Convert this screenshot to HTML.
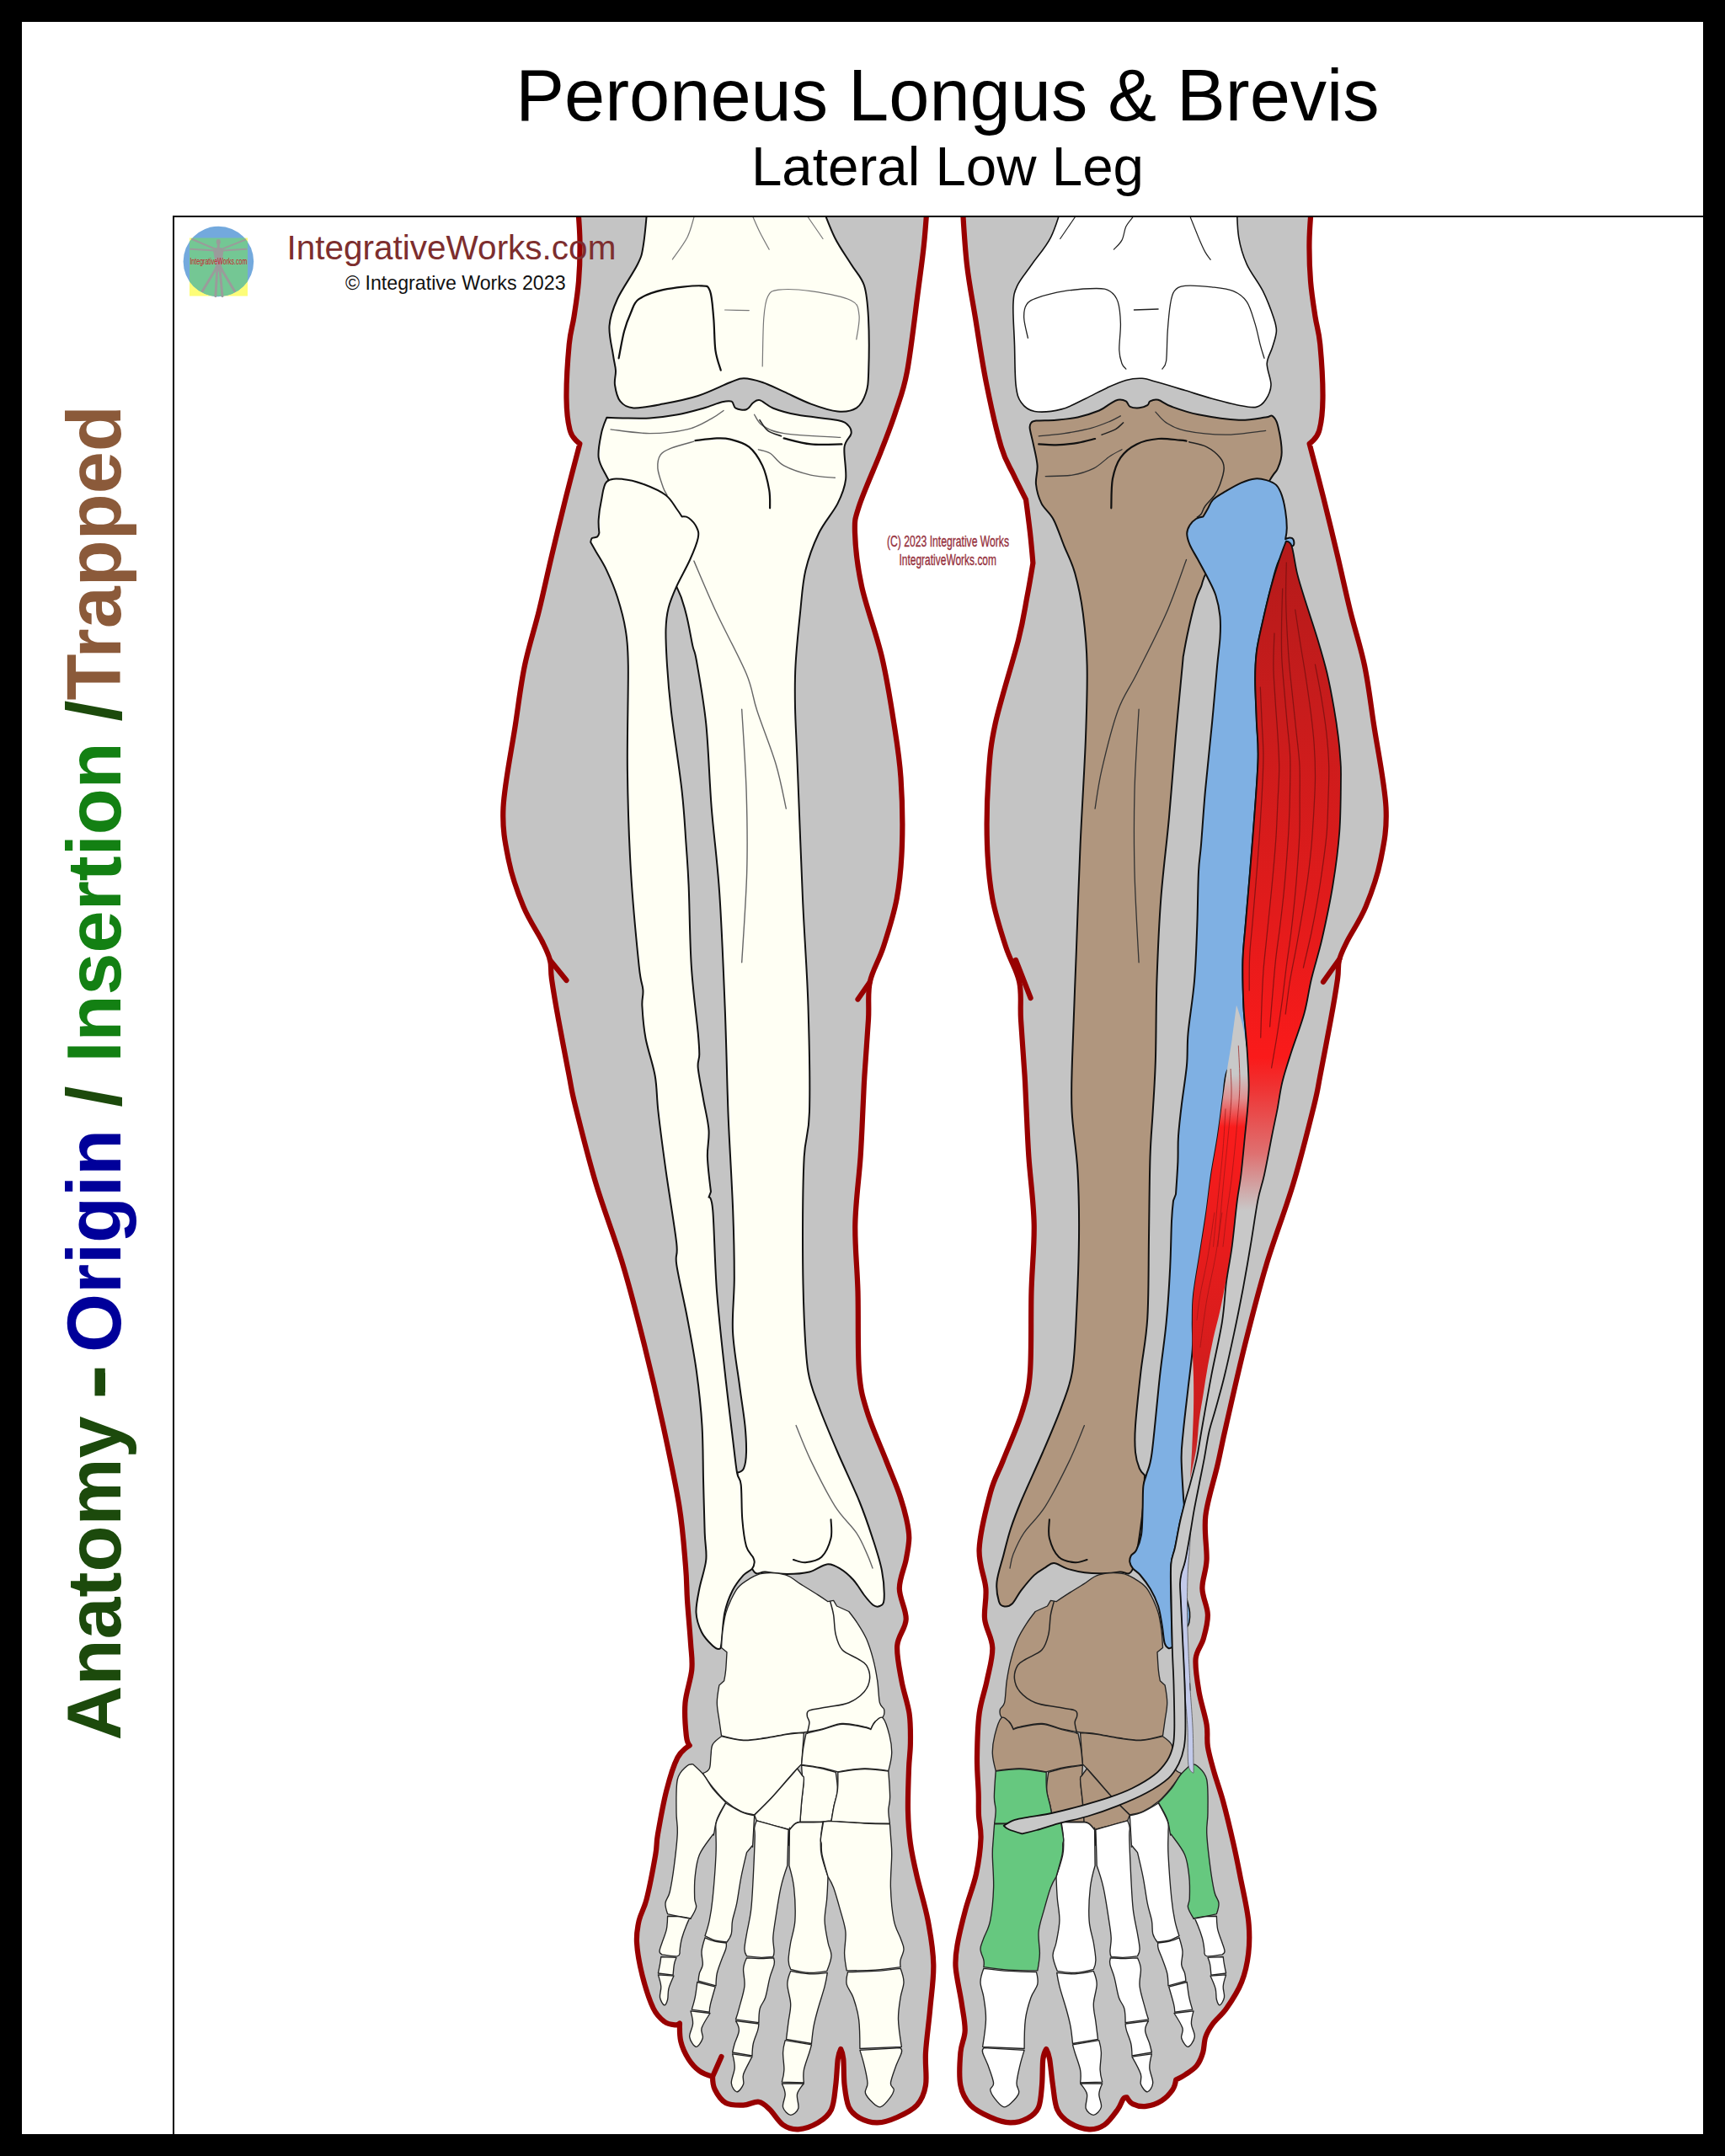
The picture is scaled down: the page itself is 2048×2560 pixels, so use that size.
<!DOCTYPE html>
<html><head><meta charset="utf-8"><title>Peroneus Longus &amp; Brevis</title>
<style>html,body{margin:0;padding:0;background:#000}svg{display:block}text{font-family:"Liberation Sans",sans-serif}</style>
</head><body>
<svg width="2048" height="2560" viewBox="0 0 2048 2560">
<defs>
<clipPath id="box"><rect x="207" y="258" width="1815" height="2276"/></clipPath>
<linearGradient id="gl" gradientUnits="userSpaceOnUse" x1="0" y1="640" x2="0" y2="1450"><stop offset="0" stop-color="#b41a1a"/><stop offset="0.25" stop-color="#c81c1c"/><stop offset="0.55" stop-color="#e21b1b"/><stop offset="0.76" stop-color="#fa1a1a"/><stop offset="0.80" stop-color="#f03030"/><stop offset="0.90" stop-color="#df7070"/><stop offset="0.985" stop-color="#c8c8c8"/><stop offset="1" stop-color="#c8c8c8"/></linearGradient>
<linearGradient id="gb" gradientUnits="userSpaceOnUse" x1="0" y1="1190" x2="0" y2="1760"><stop offset="0" stop-color="#c8c8c8"/><stop offset="0.15" stop-color="#c8c8c8"/><stop offset="0.20" stop-color="#e09090"/><stop offset="0.26" stop-color="#fa1c1c"/><stop offset="0.55" stop-color="#e41c1c"/><stop offset="0.9" stop-color="#c81e1e"/><stop offset="1" stop-color="#c84040"/></linearGradient>
</defs>
<rect x="0" y="0" width="2048" height="2560" fill="#000"/>
<rect x="26" y="26" width="1996" height="2508" fill="#fff"/>
<g clip-path="url(#box)" stroke-linejoin="round" stroke-linecap="round">
<path d="M685.6 240.0C685.6 240.0 688.3 271.3 688.5 287.0C688.7 302.7 688.2 319.2 687.0 334.0C685.8 348.8 683.4 363.5 681.5 376.0C679.6 388.5 677.2 392.8 675.7 409.0C674.2 425.2 672.3 455.8 672.5 473.0C672.7 490.2 674.4 503.0 677.0 512.0C679.6 521.0 688.4 526.8 688.4 526.8C688.4 526.8 677.6 567.8 672.0 590.0C666.4 612.2 660.3 637.5 655.0 660.0C649.7 682.5 645.3 703.3 640.0 725.0C634.7 746.7 627.7 767.5 623.0 790.0C618.3 812.5 616.2 831.9 612.0 860.0C607.8 888.1 598.8 931.6 597.5 958.6C596.2 985.6 600.0 1002.3 604.0 1022.0C608.0 1041.7 614.9 1060.6 621.5 1076.6C628.1 1092.6 638.5 1107.4 643.8 1118.0C649.0 1128.6 651.1 1132.5 653.0 1140.0C654.9 1147.5 653.3 1151.0 655.0 1162.7C656.7 1174.5 659.5 1191.4 663.0 1210.5C666.5 1229.6 672.4 1260.4 675.7 1277.5C679.0 1294.6 677.7 1291.6 683.0 1313.0C688.3 1334.4 698.2 1374.3 707.6 1405.7C717.0 1437.1 729.8 1469.4 739.4 1501.3C749.0 1533.2 757.0 1565.1 765.0 1597.0C773.0 1628.9 780.4 1660.8 787.3 1692.7C794.2 1724.6 801.9 1760.4 806.4 1788.3C810.9 1816.2 812.4 1841.4 814.0 1860.0C815.6 1878.6 815.0 1884.8 816.0 1900.0C817.0 1915.2 819.1 1937.5 820.0 1951.3C820.9 1965.1 822.4 1970.8 821.3 1982.6C820.2 1994.3 814.6 2008.8 813.5 2021.8C812.4 2034.8 813.9 2052.4 814.8 2060.9C815.7 2069.4 818.7 2072.6 818.7 2072.6C818.7 2072.6 809.0 2078.1 804.4 2087.0C799.8 2095.9 795.2 2110.8 791.3 2126.0C787.4 2141.2 783.1 2165.6 780.9 2178.3C778.7 2191.0 780.5 2189.3 778.3 2202.0C776.1 2214.7 771.1 2241.3 767.8 2254.4C764.5 2267.5 760.7 2271.7 758.7 2280.4C756.7 2289.1 755.4 2295.6 756.0 2306.5C756.6 2317.4 759.3 2332.6 762.6 2345.7C765.9 2358.8 771.4 2375.7 775.7 2384.8C780.1 2393.9 784.4 2397.1 788.7 2400.4C793.0 2403.7 798.7 2404.1 801.7 2404.4C804.8 2404.8 807.0 2402.5 807.0 2402.5C807.0 2402.5 806.6 2416.9 808.3 2424.0C810.0 2431.1 813.7 2439.0 817.4 2444.8C821.1 2450.6 825.6 2455.5 830.4 2459.0C835.2 2462.5 846.0 2465.7 846.0 2465.7C846.0 2465.7 846.1 2475.8 848.7 2481.0C851.3 2486.2 856.1 2493.9 861.7 2497.0C867.4 2500.1 876.1 2499.8 882.6 2499.6C889.1 2499.4 895.7 2494.8 900.9 2495.7C906.1 2496.6 909.1 2500.2 913.9 2504.8C918.7 2509.4 924.0 2519.1 929.6 2523.0C935.2 2526.9 940.8 2528.7 947.8 2528.3C954.8 2527.9 964.8 2524.3 971.3 2520.4C977.8 2516.5 983.5 2512.2 987.0 2504.8C990.5 2497.4 990.9 2486.0 992.2 2476.0C993.5 2466.0 993.8 2452.0 994.8 2444.8C995.8 2437.6 998.2 2433.0 998.2 2433.0C998.2 2433.0 1000.6 2437.6 1001.3 2444.8C1002.0 2452.0 1001.5 2466.5 1002.6 2476.0C1003.7 2485.5 1004.8 2495.5 1007.8 2502.0C1010.8 2508.5 1015.2 2511.9 1020.9 2515.0C1026.5 2518.1 1034.3 2520.6 1041.7 2520.4C1049.1 2520.2 1057.4 2517.5 1065.2 2514.0C1073.0 2510.5 1083.1 2505.9 1088.7 2499.6C1094.3 2493.3 1097.3 2486.4 1099.0 2476.0C1100.7 2465.6 1098.1 2452.2 1099.0 2437.0C1099.9 2421.8 1102.8 2402.2 1104.3 2384.8C1105.8 2367.4 1108.7 2350.0 1108.3 2332.6C1107.9 2315.2 1105.0 2297.8 1101.7 2280.4C1098.4 2263.0 1092.2 2243.5 1088.7 2228.3C1085.2 2213.1 1082.7 2202.1 1080.9 2189.0C1079.1 2175.9 1078.3 2164.8 1078.0 2150.0C1077.7 2135.2 1078.5 2113.3 1079.0 2100.0C1079.5 2086.7 1080.8 2080.9 1080.9 2070.0C1081.0 2059.1 1081.3 2047.2 1079.6 2034.8C1077.8 2022.4 1072.8 2009.2 1070.4 1995.7C1068.0 1982.2 1064.3 1966.2 1065.2 1954.0C1066.1 1941.8 1075.3 1933.9 1075.7 1922.6C1076.1 1911.3 1067.8 1897.8 1067.8 1886.0C1067.8 1874.2 1073.8 1862.0 1075.7 1852.0C1077.6 1842.0 1079.2 1834.2 1079.3 1826.0C1079.3 1817.8 1078.0 1812.0 1076.0 1803.0C1074.0 1794.0 1071.0 1783.5 1067.0 1772.0C1063.0 1760.5 1058.2 1749.9 1052.0 1734.0C1045.8 1718.1 1034.9 1694.2 1029.6 1676.7C1024.3 1659.2 1021.9 1652.8 1020.0 1628.9C1018.1 1605.0 1019.3 1562.4 1018.5 1533.2C1017.7 1504.0 1014.8 1480.1 1015.3 1453.5C1015.8 1426.9 1020.0 1397.7 1021.6 1373.8C1023.2 1349.9 1024.0 1326.0 1024.8 1310.0C1025.6 1294.0 1025.4 1294.1 1026.4 1277.5C1027.4 1260.9 1029.9 1229.1 1031.0 1210.5C1032.1 1191.9 1029.8 1180.3 1032.8 1166.0C1035.8 1151.7 1043.5 1140.9 1048.8 1124.4C1054.1 1107.9 1061.0 1087.2 1064.7 1067.0C1068.4 1046.8 1070.2 1026.9 1071.0 1003.0C1071.8 979.1 1071.1 947.3 1069.5 923.5C1067.9 899.7 1065.2 883.9 1061.5 860.0C1057.8 836.1 1053.4 807.3 1047.0 780.0C1040.6 752.7 1028.3 720.5 1023.0 696.0C1017.7 671.5 1015.5 648.6 1015.0 632.7C1014.5 616.8 1014.9 616.8 1020.0 600.8C1025.1 584.8 1038.4 555.5 1045.6 537.0C1052.8 518.5 1057.8 506.0 1063.0 490.0C1068.2 474.0 1072.5 465.1 1077.0 441.0C1081.5 416.9 1086.7 370.9 1090.0 345.7C1093.3 320.5 1095.2 307.6 1097.0 290.0C1098.8 272.4 1101.0 240.0 1101.0 240.0C1101.0 240.0 685.6 240.0 685.6 240.0Z" fill="#c4c4c4" stroke="#980000" stroke-width="6.2"/>
<path d="M653.0 1140.0C656.2 1144.0 669.2 1160.0 672.5 1164.0" fill="none" stroke="#980000" stroke-width="6.2"/>
<path d="M1032.8 1166.0C1030.4 1169.4 1020.9 1183.2 1018.5 1186.6" fill="none" stroke="#980000" stroke-width="6.2"/>
<path d="M846.0 2465.7C847.8 2461.8 854.8 2445.9 856.5 2442.0" fill="none" stroke="#980000" stroke-width="6.2"/>
<path d="M1142.5 240.0C1142.5 240.0 1145.3 290.9 1147.9 313.8C1150.5 336.7 1154.2 354.2 1158.0 377.6C1161.8 401.0 1165.7 428.5 1170.8 454.0C1175.9 479.5 1183.3 512.4 1188.7 530.6C1194.1 548.8 1198.1 552.6 1203.0 563.0C1207.9 573.4 1218.0 593.1 1218.0 593.1C1218.0 593.1 1221.6 620.2 1223.0 632.7C1224.4 645.2 1226.4 668.4 1226.4 668.4C1226.4 668.4 1222.2 693.9 1219.3 709.2C1216.4 724.5 1215.3 735.1 1209.0 760.2C1202.7 785.3 1187.4 832.8 1181.5 860.0C1175.6 887.2 1175.1 899.7 1173.5 923.5C1171.9 947.3 1171.2 979.1 1172.0 1003.0C1172.8 1026.9 1174.6 1046.8 1178.3 1067.0C1182.0 1087.2 1188.9 1107.9 1194.2 1124.4C1199.5 1140.9 1207.2 1151.7 1210.2 1166.0C1213.2 1180.3 1210.9 1191.9 1212.0 1210.5C1213.1 1229.1 1215.6 1260.9 1216.6 1277.5C1217.6 1294.1 1217.4 1294.0 1218.2 1310.0C1219.0 1326.0 1219.8 1349.9 1221.4 1373.8C1223.0 1397.7 1227.2 1426.9 1227.7 1453.5C1228.2 1480.1 1225.3 1504.0 1224.5 1533.2C1223.7 1562.4 1224.8 1605.0 1223.0 1628.9C1221.2 1652.8 1218.7 1659.2 1213.4 1676.7C1208.1 1694.2 1197.2 1718.1 1191.0 1734.0C1184.8 1749.9 1180.7 1754.5 1176.0 1772.0C1171.3 1789.5 1163.5 1820.1 1162.6 1839.1C1161.7 1858.1 1169.3 1872.2 1170.4 1886.1C1171.5 1900.0 1167.8 1910.9 1169.1 1922.6C1170.4 1934.3 1177.9 1944.3 1178.3 1956.5C1178.7 1968.7 1174.3 1982.7 1171.7 1995.7C1169.1 2008.8 1164.5 2019.6 1162.6 2034.8C1160.6 2050.0 1160.2 2071.1 1160.0 2087.0C1159.8 2102.9 1161.4 2118.5 1161.7 2130.0C1162.0 2141.5 1161.5 2147.2 1162.0 2156.0C1162.5 2164.8 1165.0 2171.5 1164.5 2183.0C1164.0 2194.5 1162.0 2211.0 1159.0 2225.0C1156.0 2239.0 1150.1 2253.1 1146.4 2267.0C1142.7 2280.9 1138.7 2297.1 1136.7 2308.6C1134.7 2320.1 1133.8 2324.4 1134.6 2336.0C1135.4 2347.6 1139.8 2365.5 1141.6 2378.0C1143.4 2390.5 1145.9 2401.1 1145.7 2410.9C1145.5 2420.7 1141.3 2426.1 1140.4 2437.0C1139.5 2447.9 1138.4 2465.7 1140.4 2476.1C1142.4 2486.5 1146.3 2493.3 1152.2 2499.6C1158.1 2505.9 1167.9 2510.4 1175.7 2513.9C1183.5 2517.4 1191.7 2520.2 1199.1 2520.4C1206.5 2520.6 1214.3 2518.2 1220.0 2515.2C1225.7 2512.2 1230.2 2508.7 1233.0 2502.2C1235.8 2495.7 1236.1 2485.7 1237.0 2476.1C1237.9 2466.5 1237.4 2452.0 1238.3 2444.8C1239.2 2437.6 1242.2 2433.0 1242.2 2433.0C1242.2 2433.0 1244.8 2437.6 1246.1 2444.8C1247.4 2452.0 1248.5 2466.1 1250.0 2476.1C1251.5 2486.1 1251.9 2497.4 1255.2 2504.8C1258.5 2512.2 1263.3 2516.5 1269.6 2520.4C1275.9 2524.3 1286.0 2527.9 1293.0 2528.3C1300.0 2528.7 1305.6 2526.9 1311.3 2523.0C1317.0 2519.1 1323.3 2509.9 1327.0 2504.8C1330.7 2499.7 1331.7 2494.7 1333.5 2492.3C1335.3 2489.9 1337.9 2490.4 1337.9 2490.4C1337.9 2490.4 1341.4 2496.6 1345.2 2498.3C1349.0 2500.1 1355.2 2501.6 1360.9 2500.9C1366.6 2500.2 1373.9 2497.7 1379.1 2494.4C1384.3 2491.1 1389.4 2485.4 1392.2 2481.3C1395.0 2477.2 1396.1 2469.6 1396.1 2469.6C1396.1 2469.6 1403.7 2465.8 1407.8 2463.0C1411.9 2460.2 1417.5 2456.9 1420.9 2452.6C1424.3 2448.3 1426.5 2442.7 1428.2 2437.0C1429.9 2431.3 1429.3 2424.4 1431.3 2418.7C1433.2 2413.0 1435.8 2408.7 1439.9 2403.0C1444.0 2397.3 1450.4 2393.1 1456.1 2384.8C1461.8 2376.6 1469.8 2364.4 1474.1 2353.5C1478.4 2342.6 1480.8 2331.8 1482.2 2319.6C1483.6 2307.4 1483.8 2295.6 1482.2 2280.4C1480.6 2265.2 1475.5 2243.5 1472.5 2228.3C1469.5 2213.1 1467.8 2204.0 1464.4 2189.1C1461.0 2174.2 1456.0 2153.1 1452.2 2139.1C1448.4 2125.1 1444.8 2116.1 1441.7 2105.2C1438.7 2094.3 1435.4 2083.5 1433.9 2073.9C1432.4 2064.3 1434.3 2058.7 1432.6 2047.8C1430.9 2036.9 1425.7 2021.7 1423.5 2008.7C1421.3 1995.7 1418.7 1980.0 1419.6 1969.6C1420.5 1959.2 1426.3 1954.8 1428.7 1946.1C1431.1 1937.4 1434.1 1927.4 1433.9 1917.4C1433.7 1907.4 1427.6 1897.0 1427.4 1886.1C1427.2 1875.2 1431.9 1866.5 1432.6 1852.2C1433.2 1837.9 1429.2 1818.6 1431.3 1800.0C1433.4 1781.4 1441.2 1758.4 1445.3 1740.5C1449.4 1722.6 1450.2 1716.6 1455.7 1692.7C1461.2 1668.8 1470.0 1628.9 1478.0 1597.0C1486.0 1565.1 1494.0 1533.2 1503.6 1501.3C1513.2 1469.4 1526.0 1437.1 1535.4 1405.7C1544.8 1374.3 1554.7 1334.4 1560.0 1313.0C1565.3 1291.6 1564.0 1294.6 1567.3 1277.5C1570.6 1260.4 1576.5 1229.6 1580.0 1210.5C1583.5 1191.4 1586.3 1174.5 1588.0 1162.7C1589.7 1151.0 1588.1 1147.5 1590.0 1140.0C1591.9 1132.5 1594.0 1128.6 1599.2 1118.0C1604.5 1107.4 1614.9 1092.6 1621.5 1076.6C1628.1 1060.6 1635.0 1041.7 1639.0 1022.0C1643.0 1002.3 1646.8 985.6 1645.5 958.6C1644.2 931.6 1635.2 888.1 1631.0 860.0C1626.8 831.9 1624.7 812.5 1620.0 790.0C1615.3 767.5 1608.3 746.7 1603.0 725.0C1597.7 703.3 1593.3 682.5 1588.0 660.0C1582.7 637.5 1576.6 612.2 1571.0 590.0C1565.4 567.8 1554.6 526.8 1554.6 526.8C1554.6 526.8 1563.3 521.0 1566.0 512.0C1568.7 503.0 1570.3 490.2 1570.5 473.0C1570.7 455.8 1568.8 425.2 1567.3 409.0C1565.8 392.8 1563.4 388.5 1561.5 376.0C1559.6 363.5 1557.2 348.8 1556.0 334.0C1554.8 319.2 1554.3 302.7 1554.5 287.0C1554.7 271.3 1557.4 240.0 1557.4 240.0C1557.4 240.0 1142.5 240.0 1142.5 240.0Z" fill="#c4c4c4" stroke="#980000" stroke-width="6.2"/>
<path d="M1206.0 1140.0C1208.9 1147.5 1220.7 1177.5 1223.6 1185.0" fill="none" stroke="#980000" stroke-width="6.2"/>
<path d="M1590.3 1138.7C1587.1 1143.2 1574.2 1161.4 1571.0 1165.9" fill="none" stroke="#980000" stroke-width="6.2"/>
<path d="M769.0 240.0C769.0 240.0 766.0 277.7 764.0 290.0C762.0 302.3 762.2 303.0 757.0 313.8C751.8 324.6 738.6 342.8 733.0 355.0C727.4 367.2 724.3 375.8 723.5 387.0C722.7 398.2 726.8 413.2 728.0 422.0C729.2 430.8 730.7 434.2 731.0 440.0C731.3 445.8 729.1 450.9 730.0 457.0C730.9 463.1 732.6 471.8 736.3 476.4C740.0 481.0 743.7 483.9 752.2 484.4C760.7 484.9 774.5 482.0 787.3 479.6C800.0 477.2 815.4 474.3 828.7 470.0C842.0 465.7 858.0 457.4 867.0 454.0C876.0 450.6 876.6 449.3 883.0 449.3C889.4 449.3 897.3 451.4 905.3 454.0C913.3 456.6 921.2 460.9 930.8 465.2C940.4 469.5 952.1 475.7 962.7 479.6C973.3 483.5 985.5 487.7 994.5 488.5C1003.5 489.3 1011.3 488.0 1016.9 484.4C1022.5 480.8 1025.6 474.0 1028.0 466.8C1030.4 459.6 1030.7 456.2 1031.2 441.3C1031.7 426.4 1031.9 394.7 1031.0 377.6C1030.1 360.6 1029.4 349.6 1026.0 339.0C1022.6 328.4 1016.3 323.3 1010.5 313.8C1004.7 304.3 997.1 294.3 991.0 282.0C984.9 269.7 974.0 240.0 974.0 240.0C974.0 240.0 769.0 240.0 769.0 240.0Z" fill="#fffff4" stroke="#111" stroke-width="2.0"/>
<path d="M734.6 425.4C735.7 420.1 738.6 402.5 741.0 393.5C743.4 384.5 746.1 377.6 749.0 371.2C751.9 364.8 752.1 359.7 758.5 355.2C764.9 350.7 775.0 346.8 787.2 344.1C799.4 341.5 822.6 339.0 831.9 339.3C841.2 339.6 840.5 339.3 843.0 345.7C845.5 352.1 846.1 365.8 847.2 377.5C848.3 389.2 848.0 405.4 849.4 415.8C850.8 426.2 854.7 435.7 855.8 439.7" fill="none" stroke="#111" stroke-width="2.2"/>
<path d="M905.2 434.9C905.5 425.3 905.7 391.3 906.8 377.5C907.9 363.7 908.7 357.6 911.6 352.0C914.5 346.4 915.8 345.2 924.3 344.1C932.8 343.1 948.2 343.6 962.6 345.7C977.0 347.8 1000.8 352.0 1010.4 356.8C1020.0 361.6 1018.9 366.6 1020.0 374.3C1021.1 382.0 1017.3 398.2 1016.8 403.0" fill="none" stroke="#777" stroke-width="1.2"/>
<path d="M860.6 368.0C865.4 368.1 884.5 368.5 889.3 368.6" fill="none" stroke="#777" stroke-width="1.2"/>
<path d="M823.9 258.0C822.6 262.0 820.1 273.6 815.9 281.9C811.6 290.2 801.3 303.6 798.4 308.0" fill="none" stroke="#777" stroke-width="1.2"/>
<path d="M894.1 258.0C895.4 260.9 898.8 269.1 902.0 275.5C905.2 281.9 911.3 292.8 913.2 296.2" fill="none" stroke="#777" stroke-width="1.2"/>
<path d="M959.4 258.0C962.3 262.2 974.1 279.2 977.0 283.5" fill="none" stroke="#777" stroke-width="1.2"/>
<path d="M720.3 495.8C720.3 495.8 730.9 496.3 739.4 496.4C747.9 496.5 760.7 497.0 771.3 496.4C781.9 495.8 792.6 494.6 803.2 492.6C813.8 490.7 826.1 487.2 835.1 484.7C844.1 482.1 851.8 478.6 857.4 477.3C863.0 476.0 865.9 475.5 868.6 476.7C871.3 477.9 870.5 483.1 873.4 484.7C876.3 486.3 882.6 487.4 886.1 486.3C889.6 485.2 891.4 480.2 894.1 478.3C896.8 476.4 898.1 474.0 902.1 475.1C906.1 476.2 910.6 481.8 918.0 484.7C925.4 487.6 934.0 490.2 946.7 492.6C959.5 495.0 984.4 496.9 994.5 499.0C1004.6 501.1 1004.6 502.7 1007.3 505.4C1010.0 508.1 1011.3 510.7 1010.5 515.0C1009.7 519.3 1003.6 522.0 1002.5 531.0C1001.4 540.0 1005.4 558.1 1004.1 569.2C1002.8 580.4 999.8 587.3 994.5 597.9C989.2 608.5 978.6 619.7 972.2 633.0C965.8 646.3 960.0 661.7 956.3 677.6C952.6 693.5 951.9 709.9 949.9 728.6C947.9 747.3 945.5 771.4 944.5 790.0C943.5 808.6 943.6 820.4 944.0 840.0C944.4 859.6 945.2 869.7 946.7 907.5C948.2 945.3 950.9 1019.2 953.0 1067.0C955.1 1114.8 958.2 1152.3 959.5 1194.5C960.8 1236.7 961.8 1290.1 961.0 1320.0C960.2 1349.9 956.0 1348.9 954.7 1373.8C953.4 1398.7 953.0 1437.5 953.0 1469.4C953.0 1501.3 953.6 1538.4 954.7 1565.0C955.8 1591.6 956.6 1611.4 959.5 1628.9C962.4 1646.4 966.4 1654.1 972.2 1670.0C978.0 1685.9 986.5 1705.8 994.5 1724.5C1002.5 1743.2 1013.1 1765.0 1020.0 1782.0C1026.9 1799.0 1031.5 1812.8 1036.0 1826.6C1040.5 1840.4 1044.7 1852.9 1047.0 1865.0C1049.3 1877.1 1050.0 1892.0 1049.6 1899.0C1049.1 1906.0 1046.5 1905.9 1044.3 1907.0C1042.1 1908.1 1039.5 1907.9 1036.5 1905.7C1033.5 1903.5 1029.9 1899.0 1026.0 1894.0C1022.1 1889.0 1017.8 1880.9 1013.0 1875.7C1008.2 1870.5 1002.6 1865.6 997.4 1862.6C992.2 1859.5 987.8 1856.8 981.7 1857.4C975.6 1858.1 968.7 1864.6 960.9 1866.5C953.1 1868.4 943.5 1869.0 934.8 1869.0C926.1 1869.0 915.7 1867.6 908.7 1866.5C901.7 1865.4 898.8 1873.7 893.0 1862.6C887.2 1851.5 876.9 1819.0 874.0 1800.0C871.1 1781.0 875.6 1748.5 875.6 1748.5C875.6 1748.5 881.3 1747.7 883.0 1743.7C884.7 1739.7 885.8 1733.0 886.0 1724.5C886.2 1716.0 885.8 1706.0 884.5 1692.7C883.2 1679.4 880.4 1663.4 878.0 1644.8C875.6 1626.2 871.0 1602.3 870.0 1581.0C869.0 1559.7 871.8 1540.9 871.8 1517.0C871.8 1493.1 871.3 1466.7 870.2 1437.5C869.1 1408.3 866.5 1364.8 865.4 1341.9C864.3 1319.0 864.6 1324.6 863.8 1300.0C863.0 1275.4 862.2 1234.4 860.6 1194.5C859.0 1154.6 856.9 1099.9 854.2 1060.6C851.6 1021.3 847.4 992.1 844.7 958.6C842.1 925.1 841.2 888.6 838.3 859.7C835.3 830.8 829.7 800.5 827.0 785.0C824.3 769.5 824.4 776.1 822.3 766.6C820.2 757.1 817.6 740.0 814.4 728.3C811.2 716.6 810.6 711.1 803.2 696.4C795.8 681.7 781.4 657.7 770.0 640.0C758.6 622.3 743.3 602.4 735.0 590.0C726.7 577.6 724.3 573.5 720.3 565.7C716.2 557.9 711.8 551.9 710.7 543.4C709.6 534.9 712.3 522.6 713.9 514.7C715.5 506.8 720.3 495.8 720.3 495.8Z" fill="#fffff4" stroke="#111" stroke-width="2.0"/>
<path d="M725.1 509.9C732.8 510.7 756.2 514.6 771.3 514.6C786.4 514.6 803.7 512.8 815.9 509.9C828.1 507.0 837.4 500.8 844.6 497.1C851.8 493.4 856.6 489.1 859.0 487.5" fill="none" stroke="#666" stroke-width="1.4"/>
<path d="M895.6 492.3C897.2 494.4 899.4 501.4 905.2 505.1C911.1 508.8 915.3 512.2 930.7 514.6C946.1 517.0 986.5 518.6 997.7 519.4" fill="none" stroke="#666" stroke-width="1.4"/>
<path d="M902.0 498.7C903.6 500.8 907.4 508.2 911.6 511.4C915.9 514.6 924.9 516.7 927.5 517.8" fill="none" stroke="#222" stroke-width="1.6"/>
<path d="M930.7 520.4C936.0 521.6 951.2 526.2 962.6 527.4C974.0 528.6 993.2 527.4 999.3 527.4" fill="none" stroke="#111" stroke-width="2.4"/>
<path d="M825.5 523.2C829.8 522.7 844.1 520.7 851.0 520.4C857.9 520.1 860.6 519.9 867.0 521.6C873.4 523.3 882.9 525.4 889.3 530.6C895.7 535.8 901.2 544.4 905.2 552.9C909.2 561.4 911.7 573.2 913.2 581.6C914.7 590.0 914.0 599.7 914.1 603.3" fill="none" stroke="#111" stroke-width="2.2"/>
<path d="M823.9 524.2C819.4 525.5 803.4 529.6 796.8 532.2C790.2 534.9 786.8 536.1 784.1 540.1C781.5 544.1 780.4 549.7 780.9 556.1C781.4 562.5 785.4 573.1 787.2 578.4C789.1 583.7 791.2 586.4 792.0 588.0" fill="none" stroke="#666" stroke-width="1.4"/>
<path d="M900.4 533.8C902.8 534.6 909.8 535.3 914.8 538.5C919.8 541.7 922.7 548.6 930.7 552.9C938.7 557.2 952.5 561.7 962.6 564.1C972.7 566.5 986.5 566.7 991.3 567.2" fill="none" stroke="#666" stroke-width="1.4"/>
<path d="M823.9 666.1C828.4 676.5 840.6 706.0 851.0 728.3C861.4 750.6 878.1 780.8 886.1 800.0C894.1 819.2 892.9 825.9 898.8 843.8C904.6 861.7 915.5 888.1 921.2 907.5C927.0 926.9 931.3 951.3 933.3 960.1" fill="none" stroke="#666" stroke-width="1.4"/>
<path d="M880.7 842.2C881.6 858.4 885.1 907.2 886.1 939.4C887.1 971.5 887.6 1001.2 886.7 1035.1C885.8 1069.0 881.7 1124.8 880.7 1142.8" fill="none" stroke="#666" stroke-width="1.4"/>
<path d="M945.1 1692.6C948.0 1699.5 954.9 1718.1 962.6 1734.1C970.3 1750.0 982.3 1774.0 991.3 1788.3C1000.3 1802.6 1010.4 1810.5 1016.8 1820.1C1023.2 1829.6 1026.4 1838.6 1029.6 1845.6C1032.8 1852.6 1034.9 1859.3 1036.0 1862.0" fill="none" stroke="#666" stroke-width="1.4"/>
<path d="M986.5 1804.2C986.5 1807.9 988.4 1819.1 986.5 1826.5C984.6 1833.9 980.4 1844.0 975.4 1848.8C970.4 1853.6 961.8 1854.7 956.2 1855.2C950.6 1855.7 944.3 1852.5 941.9 1852.0" fill="none" stroke="#111" stroke-width="2"/>
<path d="M720.3 572.0C724.5 567.8 731.9 568.4 739.4 568.9C746.9 569.4 756.5 572.1 765.0 575.3C773.5 578.5 784.1 583.2 790.5 588.0C796.9 592.8 800.0 599.8 803.2 604.0C806.4 608.2 809.6 613.5 809.6 613.5C809.6 613.5 814.7 612.9 817.6 615.0C820.5 617.1 825.2 622.3 827.1 626.3C829.0 630.3 830.0 632.6 828.7 639.0C827.4 645.4 823.5 654.9 819.2 664.5C815.0 674.1 807.5 686.8 803.2 696.4C798.9 706.0 795.7 713.5 793.6 722.0C791.5 730.5 790.8 736.1 790.5 747.4C790.2 758.7 791.0 773.9 792.0 790.0C793.0 806.1 793.9 818.9 796.8 843.8C799.7 868.7 806.7 913.4 809.6 939.4C812.5 965.4 813.1 981.4 814.4 1000.0C815.7 1018.6 816.5 1026.5 817.6 1051.0C818.7 1075.5 818.9 1117.5 820.8 1146.7C822.6 1175.9 827.1 1208.9 828.7 1226.4C830.3 1244.0 830.3 1245.1 830.3 1252.0C830.3 1258.9 827.9 1259.2 828.7 1268.0C829.5 1276.8 832.9 1292.7 835.0 1305.0C837.1 1317.3 840.7 1330.4 841.5 1341.9C842.3 1353.4 839.5 1361.6 839.9 1373.8C840.3 1386.0 844.0 1415.0 844.0 1415.0C844.0 1415.0 841.5 1421.6 841.5 1421.6C841.5 1421.6 844.7 1418.9 846.3 1437.5C847.9 1456.1 848.6 1501.1 851.0 1533.0C853.4 1564.9 857.4 1599.6 860.6 1628.9C863.8 1658.2 867.6 1688.7 870.0 1708.6C872.4 1728.5 873.4 1739.5 875.0 1748.5C876.6 1757.5 878.7 1753.5 879.7 1762.8C880.8 1772.0 880.2 1791.8 881.3 1804.0C882.3 1816.2 883.9 1828.5 886.0 1836.0C888.1 1843.5 892.4 1845.8 894.0 1849.0C895.6 1852.2 895.9 1852.7 895.7 1855.0C895.5 1857.3 895.2 1860.0 893.0 1862.6C890.8 1865.2 886.5 1866.1 882.6 1870.4C878.7 1874.8 873.3 1881.3 869.6 1888.7C865.9 1896.1 862.6 1904.4 860.4 1914.8C858.2 1925.2 857.6 1944.1 856.5 1951.3C855.4 1958.5 855.8 1957.3 854.0 1957.8C852.2 1958.2 849.5 1957.3 846.0 1954.0C842.5 1950.7 836.2 1944.5 833.0 1938.0C829.8 1931.5 826.9 1923.5 826.5 1914.8C826.1 1906.1 828.4 1896.5 830.4 1886.0C832.4 1875.5 837.2 1863.0 838.3 1852.0C839.3 1841.0 837.2 1835.9 836.7 1820.0C836.2 1804.1 835.5 1777.6 835.0 1756.4C834.5 1735.2 834.8 1714.0 833.5 1692.7C832.2 1671.5 829.9 1650.2 827.0 1628.9C824.1 1607.6 820.0 1586.3 816.0 1565.0C812.0 1543.7 805.3 1516.2 803.2 1501.3C801.1 1486.4 805.3 1494.4 803.2 1475.8C801.1 1457.2 794.1 1415.7 790.5 1389.7C786.9 1363.7 783.6 1338.7 781.5 1320.0C779.4 1301.3 780.2 1292.0 777.7 1277.5C775.2 1263.0 769.0 1246.6 766.5 1232.8C764.0 1219.0 762.9 1204.1 762.4 1194.5C761.9 1184.9 764.0 1183.4 763.4 1175.4C762.8 1167.4 761.0 1170.1 758.6 1146.7C756.2 1123.3 751.3 1073.8 749.0 1035.0C746.7 996.2 745.4 954.8 744.9 914.0C744.4 873.2 746.2 817.8 745.8 790.0C745.4 762.2 744.7 760.9 742.6 747.4C740.5 733.9 736.7 720.7 733.0 709.0C729.3 697.3 724.5 686.3 720.3 677.3C716.1 668.3 710.8 660.6 707.6 655.0C704.4 649.4 701.2 643.8 701.2 643.8C701.2 643.8 701.5 640.1 702.8 639.0C704.1 637.9 707.7 638.4 709.1 637.4C710.5 636.4 711.4 632.7 711.4 632.7C711.4 632.7 710.3 623.1 710.7 616.7C711.1 610.3 712.3 601.9 713.9 594.4C715.5 586.9 716.0 576.2 720.3 572.0Z" fill="#fffff4" stroke="#111" stroke-width="2.0"/>
<path d="M905.0 1868.3C897.8 1869.2 893.9 1872.3 889.1 1875.1C884.3 1877.9 879.9 1880.8 876.3 1885.0C872.7 1889.2 869.9 1895.3 867.5 1900.4C865.1 1905.5 863.3 1909.7 861.7 1915.6C860.1 1921.5 859.0 1928.9 858.1 1935.7C857.2 1942.5 856.5 1956.5 856.5 1956.5C856.5 1956.5 863.0 1961.7 863.0 1961.7C863.0 1961.7 862.2 1976.9 861.7 1982.6C861.2 1988.3 859.7 1995.7 859.7 1995.7C859.7 1995.7 853.9 2000.9 853.9 2000.9C853.9 2000.9 851.3 2014.8 851.3 2021.7C851.3 2028.7 853.0 2036.1 853.9 2042.6C854.8 2049.1 856.5 2060.9 856.5 2060.9C856.5 2060.9 873.9 2065.7 882.6 2066.1C891.3 2066.5 900.0 2064.7 908.7 2063.5C917.4 2062.3 927.2 2059.9 934.8 2058.8C942.4 2057.7 954.4 2057.0 954.4 2057.0C954.4 2057.0 968.9 2054.8 976.5 2053.0C984.1 2051.2 991.7 2046.9 1000.0 2046.5C1008.3 2046.1 1020.4 2049.3 1026.1 2050.4C1031.8 2051.5 1033.9 2053.0 1033.9 2053.0C1033.9 2053.0 1036.7 2046.3 1039.1 2043.9C1041.5 2041.5 1046.5 2041.1 1048.3 2038.7C1050.0 2036.3 1050.2 2032.4 1049.6 2029.6C1048.9 2026.8 1045.7 2027.3 1044.4 2021.7C1043.1 2016.1 1043.0 2004.4 1041.7 1995.7C1040.4 1987.0 1038.7 1977.9 1036.5 1969.6C1034.3 1961.3 1031.7 1953.1 1028.7 1946.1C1025.7 1939.1 1021.8 1933.2 1018.3 1927.8C1014.8 1922.4 1007.8 1913.5 1007.8 1913.5C1007.8 1913.5 993.5 1907.0 993.5 1907.0C993.5 1907.0 989.6 1900.4 989.6 1900.4C989.6 1900.4 983.0 1901.7 983.0 1901.7C983.0 1901.7 976.7 1897.4 971.3 1893.9C965.9 1890.4 956.9 1884.9 950.4 1880.9C943.9 1876.9 939.8 1872.0 932.2 1869.9C924.6 1867.8 912.2 1867.4 905.0 1868.3Z" fill="#fffff4" stroke="#222" stroke-width="1.35"/>
<path d="M856.5 2061.7C856.5 2061.7 873.9 2066.2 882.6 2066.6C891.3 2067.0 900.0 2065.2 908.7 2064.0C917.4 2062.8 927.2 2060.4 934.8 2059.3C942.4 2058.2 954.4 2057.5 954.4 2057.5C954.4 2057.5 953.5 2070.3 953.0 2076.5C952.5 2082.7 951.7 2094.8 951.7 2094.8C951.7 2094.8 949.3 2097.0 946.5 2100.0C943.7 2103.0 939.8 2107.3 934.8 2113.0C929.8 2118.7 923.0 2126.9 916.5 2133.9C910.0 2140.9 895.7 2154.8 895.7 2154.8C895.7 2154.8 885.7 2153.5 880.0 2150.9C874.3 2148.3 867.4 2143.9 861.7 2139.1C856.1 2134.3 850.7 2127.8 846.1 2122.2C841.5 2116.6 834.3 2105.7 834.3 2105.7C834.3 2105.7 840.6 2103.6 842.2 2100.0C843.8 2096.4 843.4 2089.2 844.0 2084.4C844.6 2079.6 844.0 2075.1 846.1 2071.3C848.2 2067.5 856.5 2061.7 856.5 2061.7Z" fill="#fffff4" stroke="#222" stroke-width="1.35"/>
<path d="M957.0 2058.3C957.0 2058.3 969.3 2055.4 976.5 2053.6C983.7 2051.8 991.7 2047.7 1000.0 2047.3C1008.3 2046.9 1020.4 2049.9 1026.1 2051.0C1031.8 2052.1 1033.9 2053.6 1033.9 2053.6C1033.9 2053.6 1036.7 2046.7 1039.1 2044.4C1041.5 2042.1 1045.5 2037.2 1048.3 2040.0C1051.1 2042.8 1054.4 2054.0 1056.1 2060.9C1057.8 2067.8 1058.9 2074.8 1058.7 2081.7C1058.5 2088.6 1054.8 2102.6 1054.8 2102.6C1054.8 2102.6 1036.1 2099.8 1026.1 2100.0C1016.1 2100.2 994.8 2103.9 994.8 2103.9C994.8 2103.9 981.1 2100.1 973.9 2098.7C966.7 2097.3 951.7 2095.3 951.7 2095.3C951.7 2095.3 952.7 2082.7 953.6 2076.5C954.5 2070.3 957.0 2058.3 957.0 2058.3Z" fill="#fffff4" stroke="#222" stroke-width="1.35"/>
<path d="M951.7 2096.1C951.7 2096.1 967.1 2098.1 973.9 2099.5C980.6 2100.9 992.2 2104.4 992.2 2104.4C992.2 2104.4 994.6 2119.4 994.3 2126.1C993.9 2132.8 991.3 2138.4 990.1 2144.4C988.9 2150.4 987.0 2161.8 987.0 2161.8C987.0 2161.8 980.1 2162.9 973.9 2163.1C967.7 2163.3 949.9 2163.1 949.9 2163.1C949.9 2163.1 951.0 2147.4 951.7 2139.1C952.5 2130.8 954.3 2118.2 954.4 2113.0C954.5 2107.8 953.0 2110.6 952.5 2107.8C952.0 2105.0 951.7 2096.1 951.7 2096.1Z" fill="#fffff4" stroke="#222" stroke-width="1.35"/>
<path d="M994.8 2104.4C994.8 2104.4 1016.1 2100.7 1026.1 2100.5C1036.1 2100.3 1054.8 2103.1 1054.8 2103.1C1054.8 2103.1 1056.6 2126.2 1056.6 2133.9C1056.6 2141.7 1054.8 2144.4 1054.8 2149.6C1054.8 2154.8 1056.4 2165.2 1056.4 2165.2C1056.4 2165.2 1037.7 2165.2 1026.1 2164.7C1014.5 2164.2 987.0 2162.4 987.0 2162.4C987.0 2162.4 988.9 2150.5 990.1 2144.4C991.3 2138.3 993.5 2132.8 994.3 2126.1C995.1 2119.4 994.8 2104.4 994.8 2104.4Z" fill="#fffff4" stroke="#222" stroke-width="1.35"/>
<path d="M946.5 2100.0C946.5 2100.0 951.2 2106.2 952.5 2108.4C953.8 2110.6 954.5 2107.9 954.4 2113.0C954.3 2118.1 952.5 2130.8 951.7 2139.1C951.0 2147.4 949.9 2163.1 949.9 2163.1C949.9 2163.1 946.0 2163.7 943.9 2165.2C941.8 2166.7 937.4 2172.3 937.4 2172.3C937.4 2172.3 928.2 2170.2 921.7 2168.4C915.2 2166.7 898.3 2161.8 898.3 2161.8C898.3 2161.8 895.7 2155.3 895.7 2155.3C895.7 2155.3 910.0 2141.4 916.5 2134.4C923.0 2127.4 929.8 2119.3 934.8 2113.6C939.8 2107.9 946.5 2100.0 946.5 2100.0Z" fill="#fffff4" stroke="#222" stroke-width="1.35"/>
<path d="M804.3 2113.0C806.3 2103.9 811.8 2100.4 814.8 2097.4C817.8 2094.4 822.6 2094.8 822.6 2094.8C822.6 2094.8 831.8 2103.0 835.7 2107.8C839.6 2112.6 841.8 2118.1 846.1 2123.5C850.4 2128.9 861.7 2140.4 861.7 2140.4C861.7 2140.4 853.7 2153.7 851.3 2160.0C848.9 2166.3 848.3 2175.2 847.4 2178.3C846.5 2181.4 848.9 2174.7 846.1 2178.7C843.3 2182.7 833.9 2193.9 830.4 2202.2C826.9 2210.5 826.2 2219.6 825.2 2228.3C824.2 2237.0 824.5 2248.2 824.7 2254.3C824.9 2260.4 827.3 2260.9 826.5 2264.8C825.7 2268.7 820.0 2277.8 820.0 2277.8C820.0 2277.8 808.9 2276.1 804.3 2275.2C799.7 2274.3 792.6 2272.6 792.6 2272.6C792.6 2272.6 789.6 2263.9 790.0 2259.6C790.4 2255.2 793.5 2253.9 795.2 2246.5C796.9 2239.1 798.9 2226.9 800.4 2215.2C801.9 2203.5 803.9 2186.6 804.3 2176.1C804.7 2165.6 803.0 2162.7 803.0 2152.2C803.0 2141.7 802.3 2122.1 804.3 2113.0Z" fill="#fffff4" stroke="#222" stroke-width="1.35"/>
<path d="M861.7 2141.0C861.7 2141.0 874.3 2148.9 880.0 2151.4C885.7 2153.9 895.7 2155.8 895.7 2155.8C895.7 2155.8 895.5 2159.3 895.1 2165.2C894.8 2171.1 894.0 2186.9 893.6 2191.3C893.2 2195.7 894.2 2190.3 893.0 2191.7C891.8 2193.1 886.5 2199.6 886.5 2199.6C886.5 2199.6 882.0 2218.3 880.0 2228.3C878.0 2238.3 876.5 2250.9 874.8 2259.6C873.1 2268.3 870.7 2274.3 869.6 2280.4C868.5 2286.5 869.4 2291.8 868.3 2296.1C867.2 2300.4 863.0 2306.0 863.0 2306.0C863.0 2306.0 853.0 2305.1 848.7 2303.9C844.4 2302.7 837.0 2298.7 837.0 2298.7C837.0 2298.7 840.7 2287.8 842.2 2280.4C843.7 2273.0 844.8 2267.3 846.1 2254.3C847.4 2241.3 849.4 2215.2 850.0 2202.2C850.6 2189.2 849.9 2182.7 850.0 2176.1C850.1 2169.5 848.8 2168.4 850.8 2162.6C852.8 2156.8 861.7 2141.0 861.7 2141.0Z" fill="#fffff4" stroke="#222" stroke-width="1.35"/>
<path d="M898.3 2161.8C898.3 2161.8 915.2 2166.6 921.7 2168.4C928.2 2170.2 937.4 2172.8 937.4 2172.8C937.4 2172.8 937.1 2191.2 936.9 2191.3C936.7 2191.4 936.5 2169.5 936.1 2173.5C935.8 2177.5 934.8 2215.2 934.8 2215.2C934.8 2215.2 929.4 2230.4 927.0 2241.3C924.6 2252.2 921.9 2270.4 920.4 2280.4C918.9 2290.4 918.0 2295.2 917.8 2301.3C917.6 2307.4 919.1 2313.3 919.1 2317.0C919.1 2320.7 917.8 2323.5 917.8 2323.5C917.8 2323.5 908.7 2324.4 903.5 2324.3C898.3 2324.2 886.5 2322.7 886.5 2322.7C886.5 2322.7 883.9 2318.7 883.9 2314.3C883.9 2309.9 885.2 2303.9 886.5 2296.1C887.8 2288.3 890.4 2278.7 891.7 2267.4C893.0 2256.1 893.5 2242.7 894.3 2228.3C895.0 2214.0 896.0 2191.0 896.2 2181.3C896.4 2171.7 895.4 2173.7 895.7 2170.4C896.1 2167.2 898.3 2161.8 898.3 2161.8Z" fill="#fffff4" stroke="#222" stroke-width="1.35"/>
<path d="M949.9 2163.7C949.9 2163.7 969.4 2163.8 973.9 2163.7C978.4 2163.6 977.0 2163.1 977.0 2163.1C977.0 2163.1 974.7 2177.0 974.4 2183.5C974.1 2190.0 973.8 2194.7 975.2 2202.2C976.6 2209.7 983.0 2228.3 983.0 2228.3C983.0 2228.3 982.4 2245.6 981.7 2254.3C981.1 2263.0 978.9 2271.7 979.1 2280.4C979.3 2289.1 981.7 2299.5 983.0 2306.5C984.3 2313.5 987.2 2316.5 987.0 2322.2C986.8 2327.8 981.7 2340.4 981.7 2340.4C981.7 2340.4 968.1 2342.8 960.9 2342.5C953.7 2342.2 938.7 2338.3 938.7 2338.3C938.7 2338.3 936.1 2332.7 936.1 2327.4C936.1 2322.1 937.4 2314.3 938.7 2306.5C940.0 2298.7 943.2 2291.3 943.9 2280.4C944.5 2269.5 943.8 2252.2 942.6 2241.3C941.4 2230.4 936.9 2215.2 936.9 2215.2C936.9 2215.2 937.3 2180.6 937.4 2173.5C937.5 2166.4 937.4 2172.8 937.4 2172.8C937.4 2172.8 941.8 2167.2 943.9 2165.7C946.0 2164.2 949.9 2163.7 949.9 2163.7Z" fill="#fffff4" stroke="#222" stroke-width="1.35"/>
<path d="M977.6 2163.1C977.6 2163.1 978.9 2162.3 987.0 2162.6C995.1 2162.9 1014.5 2164.5 1026.1 2165.0C1037.7 2165.5 1056.4 2165.7 1056.4 2165.7C1056.4 2165.7 1057.3 2177.4 1057.7 2183.5C1058.1 2189.6 1058.8 2192.6 1058.7 2202.2C1058.7 2211.8 1057.0 2228.3 1057.4 2241.3C1057.8 2254.3 1059.3 2270.4 1061.3 2280.4C1063.2 2290.4 1067.1 2295.7 1069.1 2301.3C1071.0 2307.0 1073.0 2310.0 1073.0 2314.3C1073.0 2318.7 1069.8 2323.8 1069.1 2327.4C1068.4 2331.0 1069.1 2335.7 1069.1 2335.7C1069.1 2335.7 1049.8 2338.4 1039.1 2339.1C1028.4 2339.8 1005.2 2339.9 1005.2 2339.9C1005.2 2339.9 1002.8 2327.3 1002.6 2319.6C1002.4 2311.9 1004.8 2302.2 1003.9 2293.5C1003.0 2284.8 999.8 2276.1 997.4 2267.4C995.0 2258.7 992.0 2247.8 989.6 2241.3C987.2 2234.8 983.0 2228.3 983.0 2228.3C983.0 2228.3 977.3 2208.7 976.0 2202.2C974.7 2195.7 975.5 2192.2 975.2 2189.1C974.9 2186.0 974.0 2187.8 974.4 2183.5C974.8 2179.2 977.6 2163.1 977.6 2163.1Z" fill="#fffff4" stroke="#222" stroke-width="1.35"/>
<path d="M792.6 2275.2C792.6 2275.2 792.4 2285.7 791.3 2290.9C790.2 2296.1 787.5 2302.2 786.1 2306.5C784.7 2310.8 783.0 2314.6 783.0 2317.0C783.0 2319.4 786.1 2320.9 786.1 2320.9C786.1 2320.9 800.8 2323.3 804.3 2322.7C807.8 2322.0 807.0 2317.0 807.0 2317.0C807.0 2317.0 807.9 2307.4 809.6 2301.3C811.3 2295.2 815.7 2284.2 817.4 2280.4C819.1 2276.6 820.0 2278.3 820.0 2278.3C820.0 2278.3 808.9 2276.2 804.3 2275.7C799.7 2275.2 792.6 2275.2 792.6 2275.2Z" fill="#fffff4" stroke="#222" stroke-width="1.35"/>
<path d="M784.8 2323.5C784.8 2323.5 784.1 2329.3 783.5 2332.6C782.9 2335.8 781.4 2343.0 781.4 2343.0C781.4 2343.0 799.1 2345.1 799.1 2345.1C799.1 2345.1 799.8 2336.1 800.4 2332.6C801.0 2329.1 803.0 2324.3 803.0 2324.3C803.0 2324.3 784.8 2323.5 784.8 2323.5Z" fill="#fffff4" stroke="#222" stroke-width="1.35"/>
<path d="M781.4 2344.9C781.4 2344.9 784.4 2354.2 784.8 2358.7C785.1 2363.2 782.9 2368.0 783.5 2371.7C784.1 2375.4 787.2 2380.5 788.7 2380.9C790.2 2381.3 791.7 2377.6 792.6 2374.3C793.5 2371.0 792.7 2366.0 793.9 2361.3C795.1 2356.6 799.9 2346.2 799.9 2346.2C799.9 2346.2 781.4 2344.9 781.4 2344.9Z" fill="#fffff4" stroke="#222" stroke-width="1.35"/>
<path d="M837.0 2300.8C837.0 2300.8 833.5 2311.7 833.0 2317.0C832.5 2322.3 834.7 2328.3 834.3 2332.6C833.9 2336.9 831.3 2339.7 830.4 2343.0C829.5 2346.3 829.1 2352.2 829.1 2352.2C829.1 2352.2 850.0 2357.9 850.0 2357.9C850.0 2357.9 850.2 2348.1 851.3 2343.0C852.4 2337.9 854.8 2332.2 856.5 2327.4C858.2 2322.6 860.7 2317.7 861.7 2314.3C862.7 2310.9 862.3 2307.0 862.3 2307.0C862.3 2307.0 852.9 2306.0 848.7 2305.0C844.5 2304.0 837.0 2300.8 837.0 2300.8Z" fill="#fffff4" stroke="#222" stroke-width="1.35"/>
<path d="M827.8 2353.5C827.8 2353.5 826.3 2366.3 825.2 2371.7C824.1 2377.1 821.3 2386.1 821.3 2386.1C821.3 2386.1 842.2 2389.2 842.2 2389.2C842.2 2389.2 842.3 2384.6 843.5 2379.6C844.7 2374.6 849.2 2359.2 849.2 2359.2C849.2 2359.2 827.8 2353.5 827.8 2353.5Z" fill="#fffff4" stroke="#222" stroke-width="1.35"/>
<path d="M820.0 2387.9C820.0 2387.9 822.8 2397.9 822.6 2403.0C822.4 2408.1 818.1 2414.1 818.7 2418.7C819.4 2423.3 823.9 2430.2 826.5 2430.4C829.1 2430.6 833.2 2423.7 834.3 2420.0C835.4 2416.3 831.5 2413.2 833.0 2408.3C834.5 2403.4 843.0 2390.5 843.0 2390.5C843.0 2390.5 820.0 2387.9 820.0 2387.9Z" fill="#fffff4" stroke="#222" stroke-width="1.35"/>
<path d="M886.5 2324.8C886.5 2324.8 883.0 2332.2 882.6 2337.8C882.2 2343.5 884.8 2350.9 883.9 2358.7C883.0 2366.5 879.1 2378.3 877.4 2384.8C875.7 2391.3 873.5 2397.8 873.5 2397.8C873.5 2397.8 900.9 2401.7 900.9 2401.7C900.9 2401.7 900.9 2389.8 902.2 2384.8C903.5 2379.8 906.8 2377.8 908.7 2371.7C910.7 2365.6 912.2 2354.8 913.9 2348.3C915.6 2341.8 918.3 2336.5 919.1 2332.6C919.9 2328.7 918.6 2324.8 918.6 2324.8C918.6 2324.8 908.9 2325.6 903.5 2325.6C898.1 2325.6 886.5 2324.8 886.5 2324.8Z" fill="#fffff4" stroke="#222" stroke-width="1.35"/>
<path d="M873.5 2399.7C873.5 2399.7 877.6 2406.4 877.4 2410.9C877.2 2415.4 873.5 2422.2 872.2 2426.5C870.9 2430.8 869.6 2437.0 869.6 2437.0C869.6 2437.0 893.0 2440.9 893.0 2440.9C893.0 2440.9 893.2 2431.5 894.3 2426.5C895.4 2421.5 898.5 2414.8 899.6 2410.9C900.7 2407.0 900.9 2403.0 900.9 2403.0C900.9 2403.0 873.5 2399.7 873.5 2399.7Z" fill="#fffff4" stroke="#222" stroke-width="1.35"/>
<path d="M869.6 2438.8C869.6 2438.8 872.4 2449.4 872.2 2455.2C872.0 2461.0 867.9 2468.7 868.3 2473.5C868.7 2478.3 872.4 2483.7 874.8 2483.9C877.2 2484.1 881.3 2478.3 882.6 2474.8C883.9 2471.3 880.9 2468.4 882.6 2463.0C884.3 2457.6 893.0 2442.2 893.0 2442.2C893.0 2442.2 869.6 2438.8 869.6 2438.8Z" fill="#fffff4" stroke="#222" stroke-width="1.35"/>
<path d="M938.7 2340.4C938.7 2340.4 934.8 2349.6 934.8 2356.1C934.8 2362.6 938.5 2372.2 938.7 2379.6C938.9 2387.0 937.0 2393.4 936.1 2400.4C935.2 2407.4 933.5 2421.3 933.5 2421.3C933.5 2421.3 963.5 2426.5 963.5 2426.5C963.5 2426.5 964.8 2412.6 966.1 2405.7C967.4 2398.8 969.1 2392.6 971.3 2384.8C973.5 2377.0 977.3 2365.8 979.1 2358.7C980.9 2351.6 982.3 2342.3 982.3 2342.3C982.3 2342.3 968.2 2344.1 960.9 2343.8C953.6 2343.5 938.7 2340.4 938.7 2340.4Z" fill="#fffff4" stroke="#222" stroke-width="1.35"/>
<path d="M932.2 2422.6C932.2 2422.6 929.8 2431.1 929.6 2437.0C929.4 2442.9 931.1 2451.9 930.9 2457.8C930.7 2463.7 928.3 2472.2 928.3 2472.2C928.3 2472.2 954.4 2473.0 954.4 2473.0C954.4 2473.0 953.3 2463.8 954.4 2457.8C955.5 2451.8 959.4 2442.0 960.9 2437.0C962.4 2432.0 963.5 2427.8 963.5 2427.8C963.5 2427.8 932.2 2422.6 932.2 2422.6Z" fill="#fffff4" stroke="#222" stroke-width="1.35"/>
<path d="M928.3 2474.0C928.3 2474.0 932.0 2481.8 932.2 2486.5C932.4 2491.2 928.5 2498.1 929.6 2502.2C930.7 2506.3 935.7 2511.1 938.7 2511.3C941.7 2511.5 946.5 2507.6 947.8 2503.5C949.1 2499.4 945.4 2491.4 946.5 2486.5C947.6 2481.6 954.4 2474.0 954.4 2474.0C954.4 2474.0 928.3 2474.0 928.3 2474.0Z" fill="#fffff4" stroke="#222" stroke-width="1.35"/>
<path d="M1006.5 2341.7C1006.5 2341.7 1004.1 2351.1 1005.2 2356.1C1006.3 2361.1 1010.6 2364.8 1013.0 2371.7C1015.4 2378.6 1018.3 2387.7 1019.6 2397.8C1020.9 2407.9 1020.9 2432.5 1020.9 2432.5C1020.9 2432.5 1070.4 2430.4 1070.4 2430.4C1070.4 2430.4 1066.7 2407.6 1066.5 2397.8C1066.3 2388.0 1068.0 2379.1 1069.1 2371.7C1070.2 2364.3 1073.0 2359.2 1073.0 2353.5C1073.0 2347.8 1069.1 2337.3 1069.1 2337.3C1069.1 2337.3 1049.5 2339.7 1039.1 2340.4C1028.7 2341.1 1006.5 2341.7 1006.5 2341.7Z" fill="#fffff4" stroke="#222" stroke-width="1.35"/>
<path d="M1020.9 2434.4C1020.9 2434.4 1024.6 2446.1 1026.1 2452.6C1027.6 2459.1 1029.8 2468.1 1030.0 2473.5C1030.2 2478.9 1026.3 2481.3 1027.4 2485.2C1028.5 2489.1 1033.5 2494.2 1036.5 2497.0C1039.5 2499.8 1042.4 2502.6 1045.7 2501.7C1049.0 2500.8 1053.5 2495.1 1056.1 2491.7C1058.7 2488.3 1061.1 2484.3 1061.3 2481.3C1061.5 2478.3 1057.0 2478.3 1057.4 2473.5C1057.8 2468.7 1061.7 2458.7 1063.9 2452.6C1066.1 2446.5 1069.5 2440.5 1070.4 2437.0C1071.3 2433.5 1069.1 2431.7 1069.1 2431.7C1069.1 2431.7 1020.9 2434.4 1020.9 2434.4Z" fill="#fffff4" stroke="#222" stroke-width="1.35"/>
<path d="M985.7 1901.7C986.4 1904.3 988.5 1910.9 989.6 1917.4C990.7 1923.9 990.5 1934.0 992.2 1940.9C993.9 1947.9 995.6 1954.3 1000.0 1959.1C1004.4 1963.9 1013.5 1966.5 1018.3 1969.6C1023.1 1972.6 1026.3 1973.5 1028.7 1977.4C1031.1 1981.3 1033.0 1987.8 1032.6 1993.0C1032.2 1998.2 1030.2 2003.9 1026.1 2008.7C1022.0 2013.5 1015.2 2018.7 1007.8 2021.7C1000.4 2024.8 989.5 2025.5 981.7 2027.0C973.9 2028.5 964.8 2029.2 960.9 2030.9C957.0 2032.6 958.3 2035.0 958.3 2037.4C958.3 2039.8 960.9 2041.7 960.9 2045.2C960.9 2048.7 958.7 2056.1 958.3 2058.3" fill="none" stroke="#222" stroke-width="1.5"/>
<path d="M1261.9 240.4C1261.9 240.4 1253.6 269.7 1247.5 281.9C1241.4 294.1 1231.8 304.2 1225.2 313.8C1218.6 323.4 1211.4 331.3 1207.7 339.3C1204.0 347.3 1203.4 349.9 1202.9 361.6C1202.4 373.3 1204.0 393.5 1204.5 409.4C1205.0 425.3 1204.8 445.8 1206.1 457.2C1207.4 468.6 1208.8 472.8 1212.5 478.0C1216.2 483.2 1220.4 487.2 1228.4 488.5C1236.4 489.8 1250.2 488.4 1260.3 485.9C1270.4 483.3 1280.0 477.4 1289.0 473.2C1298.0 468.9 1306.5 464.0 1314.5 460.4C1322.5 456.8 1329.9 453.4 1336.8 451.5C1343.7 449.6 1349.5 448.9 1355.9 449.3C1362.3 449.7 1366.6 451.7 1375.1 454.1C1383.6 456.5 1396.4 460.4 1407.0 463.6C1417.6 466.8 1428.2 470.3 1438.8 473.2C1449.4 476.1 1461.9 479.5 1470.7 481.2C1479.5 482.9 1486.1 484.5 1491.4 483.4C1496.7 482.3 1499.7 479.2 1502.6 474.8C1505.5 470.4 1508.7 464.4 1509.0 457.2C1509.3 450.0 1503.9 439.1 1504.2 431.7C1504.5 424.3 1508.7 419.0 1510.6 412.6C1512.5 406.2 1515.1 399.4 1515.4 393.5C1515.7 387.6 1514.9 385.5 1512.2 377.5C1509.5 369.5 1504.7 356.3 1499.4 345.7C1494.1 335.1 1485.1 324.4 1480.3 313.8C1475.5 303.2 1472.7 294.1 1470.7 281.9C1468.7 269.7 1468.5 240.4 1468.5 240.4C1468.5 240.4 1261.9 240.4 1261.9 240.4Z" fill="#ffffff" stroke="#111" stroke-width="1.6"/>
<path d="M1220.4 401.4C1219.6 397.4 1216.0 384.1 1215.7 377.5C1215.4 370.9 1216.2 365.6 1218.8 361.6C1221.4 357.6 1224.1 356.2 1231.6 353.6C1239.0 351.0 1251.8 347.6 1263.5 345.7C1275.2 343.8 1292.7 342.5 1301.7 342.5C1310.7 342.5 1313.5 343.1 1317.7 345.7C1322.0 348.3 1325.1 352.0 1327.2 358.4C1329.3 364.8 1330.1 374.3 1330.4 383.9C1330.7 393.5 1328.5 407.8 1328.8 415.8C1329.1 423.8 1330.7 428.0 1332.0 431.7C1333.3 435.4 1336.0 437.0 1336.8 438.1" fill="none" stroke="#222" stroke-width="1.3"/>
<path d="M1379.9 438.1C1380.7 436.5 1383.5 435.9 1384.6 428.5C1385.6 421.1 1385.4 404.6 1386.2 393.5C1387.0 382.4 1388.1 369.6 1389.4 361.6C1390.7 353.6 1391.3 349.4 1394.2 345.7C1397.1 342.0 1399.6 340.1 1407.0 339.3C1414.4 338.5 1429.2 339.8 1438.8 340.9C1448.3 342.0 1457.4 342.8 1464.3 345.7C1471.2 348.6 1476.0 352.0 1480.3 358.4C1484.6 364.8 1487.2 375.4 1489.9 383.9C1492.6 392.4 1494.4 402.5 1496.2 409.4C1498.0 416.3 1500.2 422.7 1501.0 425.4" fill="none" stroke="#222" stroke-width="1.3"/>
<path d="M1346.4 368.0C1351.2 367.8 1370.3 367.2 1375.1 367.0" fill="none" stroke="#222" stroke-width="1.3"/>
<path d="M1258.7 283.5C1261.6 279.2 1273.3 262.2 1276.2 258.0" fill="none" stroke="#222" stroke-width="1.2"/>
<path d="M1322.5 296.2C1324.1 294.4 1329.6 289.6 1332.0 285.1C1334.4 280.6 1334.7 273.6 1336.8 269.1C1338.9 264.6 1343.5 259.9 1344.8 258.0" fill="none" stroke="#222" stroke-width="1.2"/>
<path d="M1413.3 258.0C1414.9 262.0 1420.0 275.0 1422.9 281.9C1425.8 288.8 1428.5 295.0 1430.9 299.4C1433.3 303.8 1436.2 306.8 1437.2 308.3" fill="none" stroke="#222" stroke-width="1.2"/>
<path d="M1222.7 508.9C1222.2 504.8 1222.7 504.1 1223.9 502.5C1225.1 500.9 1225.0 500.2 1230.0 499.6C1235.0 499.0 1245.7 499.4 1253.9 498.7C1262.1 498.0 1270.9 497.4 1279.4 495.5C1287.9 493.6 1298.5 490.1 1304.9 487.5C1311.3 484.9 1314.0 481.7 1317.7 479.6C1321.4 477.5 1324.0 475.3 1327.2 474.8C1330.4 474.3 1334.4 475.1 1336.8 476.4C1339.2 477.7 1338.9 481.5 1341.6 482.8C1344.3 484.1 1349.3 484.6 1352.8 484.3C1356.2 484.0 1360.2 482.5 1362.3 481.2C1364.4 479.9 1363.4 477.5 1365.5 476.4C1367.6 475.3 1370.8 473.7 1375.1 474.8C1379.3 475.9 1383.0 479.9 1391.0 482.8C1399.0 485.7 1409.6 489.7 1422.9 492.3C1436.2 494.9 1457.4 498.2 1470.7 498.7C1484.0 499.2 1495.9 496.3 1502.6 495.5C1509.2 494.7 1508.2 492.3 1510.6 493.9C1513.0 495.5 1515.2 497.9 1517.0 505.1C1518.8 512.3 1521.7 528.5 1521.7 537.0C1521.7 545.5 1519.4 550.5 1517.0 556.1C1514.6 561.7 1515.1 557.6 1507.4 570.4C1499.7 583.1 1482.9 614.8 1470.7 632.6C1458.5 650.4 1441.5 666.6 1434.1 677.2C1426.7 687.8 1428.5 690.5 1426.1 696.4C1423.7 702.2 1422.1 704.3 1419.7 712.3C1417.3 720.3 1414.1 733.6 1411.7 744.2C1409.3 754.8 1406.7 768.5 1405.4 776.1C1404.1 783.7 1405.4 773.4 1403.8 790.0C1402.2 806.6 1398.4 845.5 1395.8 875.7C1393.2 905.9 1390.8 939.4 1387.9 971.3C1385.0 1003.2 1380.7 1035.1 1378.3 1067.0C1375.9 1098.9 1374.6 1130.8 1373.5 1162.7C1372.4 1194.6 1372.7 1232.1 1371.9 1258.3C1371.1 1284.5 1369.8 1300.8 1368.7 1320.0C1367.6 1339.2 1366.3 1348.9 1365.5 1373.8C1364.7 1398.7 1364.5 1437.5 1364.0 1469.4C1363.5 1501.3 1363.9 1538.4 1362.3 1565.0C1360.7 1591.6 1356.8 1607.6 1354.4 1628.9C1352.0 1650.2 1349.1 1676.8 1348.0 1692.7C1346.9 1708.6 1347.2 1716.0 1348.0 1724.5C1348.8 1733.0 1351.0 1739.2 1352.8 1743.7C1354.6 1748.2 1359.0 1751.6 1359.0 1751.6C1359.0 1751.6 1358.3 1781.5 1356.0 1800.0C1353.7 1818.5 1349.4 1851.4 1345.0 1862.5C1340.6 1873.6 1335.6 1865.5 1329.6 1866.5C1323.5 1867.5 1315.7 1868.2 1308.7 1868.3C1301.7 1868.4 1294.8 1868.2 1287.8 1867.3C1280.8 1866.3 1273.1 1864.5 1267.0 1862.6C1260.9 1860.7 1255.6 1856.2 1251.3 1856.0C1247.0 1855.8 1244.8 1858.9 1240.9 1861.3C1237.0 1863.7 1232.6 1865.8 1227.8 1870.4C1223.0 1875.0 1216.5 1883.1 1212.2 1888.7C1207.9 1894.3 1205.0 1901.2 1201.7 1904.3C1198.4 1907.4 1195.2 1907.9 1192.6 1907.5C1190.0 1907.1 1187.5 1906.6 1186.0 1901.7C1184.5 1896.8 1182.6 1887.4 1183.5 1878.3C1184.4 1869.2 1188.5 1857.5 1191.3 1847.0C1194.0 1836.5 1196.5 1825.8 1200.0 1815.0C1203.5 1804.2 1206.2 1797.1 1212.5 1782.0C1218.8 1766.9 1230.0 1743.1 1238.0 1724.5C1246.0 1705.9 1254.5 1686.2 1260.3 1670.3C1266.1 1654.4 1270.1 1646.5 1273.0 1628.9C1275.9 1611.4 1276.5 1591.6 1277.8 1565.0C1279.1 1538.4 1280.7 1498.6 1281.0 1469.4C1281.3 1440.2 1280.8 1414.6 1279.4 1389.7C1278.0 1364.8 1273.7 1342.0 1272.6 1320.0C1271.5 1298.0 1272.1 1289.5 1273.0 1258.0C1273.9 1226.5 1276.2 1173.3 1277.8 1130.8C1279.4 1088.3 1280.7 1045.5 1282.6 1003.0C1284.5 960.5 1287.7 911.2 1289.0 875.7C1290.3 840.2 1291.1 814.6 1290.6 790.0C1290.1 765.4 1288.2 746.5 1285.8 728.3C1283.4 710.0 1279.9 693.8 1276.2 680.5C1272.5 667.2 1267.8 659.2 1263.5 648.6C1259.2 638.0 1255.2 625.2 1250.7 616.7C1246.2 608.2 1239.9 604.6 1236.4 597.6C1233.0 590.6 1230.8 582.5 1230.0 575.0C1229.2 567.5 1232.1 560.8 1231.6 552.9C1231.1 545.0 1228.3 534.7 1226.8 527.4C1225.3 520.1 1223.2 513.0 1222.7 508.9Z" fill="#b0967e" stroke="#111" stroke-width="2.0"/>
<path d="M1233.2 517.8C1238.2 517.3 1253.1 516.2 1263.5 514.6C1273.9 513.0 1286.4 510.7 1295.4 508.3C1304.4 505.9 1311.9 502.7 1317.7 500.3C1323.5 497.9 1328.3 495.0 1330.4 493.9" fill="none" stroke="#333" stroke-width="1.3"/>
<path d="M1233.2 527.4C1236.7 527.5 1246.2 528.6 1253.9 528.3C1261.6 528.0 1271.7 527.0 1279.4 525.8C1287.1 524.6 1296.6 521.8 1300.1 521.0" fill="none" stroke="#111" stroke-width="2.2"/>
<path d="M1308.1 516.2C1310.8 515.2 1319.8 512.3 1324.1 509.9C1328.3 507.5 1332.0 503.2 1333.6 501.9" fill="none" stroke="#222" stroke-width="1.5"/>
<path d="M1241.2 565.6C1246.5 565.4 1263.5 565.7 1273.0 564.1C1282.5 562.5 1291.0 559.8 1298.5 556.1C1306.0 552.4 1312.1 545.4 1317.7 541.7C1323.3 538.0 1329.6 535.1 1332.0 533.8" fill="none" stroke="#333" stroke-width="1.3"/>
<path d="M1319.3 603.3C1319.6 597.5 1319.1 578.8 1320.9 568.8C1322.8 558.8 1325.6 550.2 1330.4 543.3C1335.2 536.4 1342.1 531.1 1349.6 527.4C1357.0 523.7 1366.6 521.8 1375.1 521.0C1383.6 520.2 1395.0 522.2 1400.6 522.6C1406.2 523.0 1407.2 523.4 1408.5 523.6" fill="none" stroke="#111" stroke-width="2.2"/>
<path d="M1411.7 524.8C1415.2 525.8 1426.4 527.5 1432.5 530.6C1438.6 533.7 1445.0 539.0 1448.4 543.3C1451.9 547.5 1453.2 550.8 1453.2 556.1C1453.2 561.4 1450.3 569.9 1448.4 575.2C1446.5 580.5 1444.9 583.8 1442.0 588.0C1439.1 592.2 1433.6 597.0 1430.9 600.7C1428.2 604.4 1427.7 608.1 1426.1 610.3C1424.5 612.5 1422.1 613.5 1421.3 614.1" fill="none" stroke="#222" stroke-width="1.5"/>
<path d="M1371.9 489.1C1374.0 491.2 1378.8 498.2 1384.6 501.9C1390.4 505.6 1395.3 509.0 1407.0 511.4C1418.7 513.8 1438.9 516.2 1454.8 516.2C1470.7 516.2 1494.6 512.2 1502.6 511.4" fill="none" stroke="#333" stroke-width="1.3"/>
<path d="M1408.5 664.5C1404.5 675.1 1394.4 705.7 1384.6 728.3C1374.8 750.9 1359.2 780.8 1349.6 800.0C1340.0 819.2 1334.1 824.8 1327.2 843.8C1320.3 862.8 1312.6 894.5 1308.1 913.9C1303.6 933.3 1301.4 952.4 1300.1 960.1" fill="none" stroke="#333" stroke-width="1.3"/>
<path d="M1352.1 842.2C1351.2 858.4 1347.8 907.2 1347.0 939.4C1346.2 971.5 1346.2 1001.2 1347.0 1035.1C1347.8 1069.0 1351.2 1124.8 1352.1 1142.8" fill="none" stroke="#333" stroke-width="1.3"/>
<path d="M1287.4 1692.6C1284.5 1699.5 1277.6 1718.1 1269.9 1734.1C1262.2 1750.0 1250.2 1774.0 1241.2 1788.3C1232.2 1802.6 1222.1 1810.5 1215.7 1820.1C1209.3 1829.6 1205.7 1838.6 1202.9 1845.6C1200.1 1852.6 1199.7 1859.3 1199.0 1862.0" fill="none" stroke="#333" stroke-width="1.3"/>
<path d="M1245.9 1804.2C1245.9 1807.9 1244.0 1819.1 1245.9 1826.5C1247.8 1833.9 1252.0 1844.0 1257.1 1848.8C1262.1 1853.6 1270.6 1854.7 1276.2 1855.2C1281.8 1855.7 1288.2 1852.5 1290.6 1852.0" fill="none" stroke="#111" stroke-width="2"/>
<path d="M1332.0 1868.3C1339.2 1869.2 1343.1 1872.3 1347.9 1875.1C1352.7 1877.9 1357.1 1880.8 1360.7 1885.0C1364.3 1889.2 1367.1 1895.3 1369.5 1900.4C1371.9 1905.5 1373.7 1909.7 1375.3 1915.6C1376.9 1921.5 1378.0 1928.9 1378.9 1935.7C1379.8 1942.5 1380.5 1956.5 1380.5 1956.5C1380.5 1956.5 1374.0 1961.7 1374.0 1961.7C1374.0 1961.7 1374.8 1976.9 1375.3 1982.6C1375.8 1988.3 1377.3 1995.7 1377.3 1995.7C1377.3 1995.7 1383.1 2000.9 1383.1 2000.9C1383.1 2000.9 1385.7 2014.8 1385.7 2021.7C1385.7 2028.7 1384.0 2036.1 1383.1 2042.6C1382.2 2049.1 1380.5 2060.9 1380.5 2060.9C1380.5 2060.9 1363.1 2065.7 1354.4 2066.1C1345.7 2066.5 1337.0 2064.7 1328.3 2063.5C1319.6 2062.3 1309.8 2059.9 1302.2 2058.8C1294.6 2057.7 1282.6 2057.0 1282.6 2057.0C1282.6 2057.0 1268.1 2054.8 1260.5 2053.0C1252.9 2051.2 1245.3 2046.9 1237.0 2046.5C1228.7 2046.1 1216.6 2049.3 1210.9 2050.4C1205.2 2051.5 1203.1 2053.0 1203.1 2053.0C1203.1 2053.0 1200.3 2046.3 1197.9 2043.9C1195.5 2041.5 1190.5 2041.1 1188.7 2038.7C1187.0 2036.3 1186.8 2032.4 1187.4 2029.6C1188.1 2026.8 1191.3 2027.3 1192.6 2021.7C1193.9 2016.1 1194.0 2004.4 1195.3 1995.7C1196.6 1987.0 1198.3 1977.9 1200.5 1969.6C1202.7 1961.3 1205.3 1953.1 1208.3 1946.1C1211.3 1939.1 1215.2 1933.2 1218.7 1927.8C1222.2 1922.4 1229.2 1913.5 1229.2 1913.5C1229.2 1913.5 1243.5 1907.0 1243.5 1907.0C1243.5 1907.0 1247.4 1900.4 1247.4 1900.4C1247.4 1900.4 1254.0 1901.7 1254.0 1901.7C1254.0 1901.7 1260.3 1897.4 1265.7 1893.9C1271.1 1890.4 1280.1 1884.9 1286.6 1880.9C1293.1 1876.9 1297.2 1872.0 1304.8 1869.9C1312.4 1867.8 1324.8 1867.4 1332.0 1868.3Z" fill="#b0967e" stroke="#222" stroke-width="1.35"/>
<path d="M1380.5 2061.7C1380.5 2061.7 1363.1 2066.2 1354.4 2066.6C1345.7 2067.0 1337.0 2065.2 1328.3 2064.0C1319.6 2062.8 1309.8 2060.4 1302.2 2059.3C1294.6 2058.2 1282.6 2057.5 1282.6 2057.5C1282.6 2057.5 1283.5 2070.3 1284.0 2076.5C1284.5 2082.7 1285.3 2094.8 1285.3 2094.8C1285.3 2094.8 1287.7 2097.0 1290.5 2100.0C1293.3 2103.0 1297.2 2107.3 1302.2 2113.0C1307.2 2118.7 1314.0 2126.9 1320.5 2133.9C1327.0 2140.9 1341.3 2154.8 1341.3 2154.8C1341.3 2154.8 1351.3 2153.5 1357.0 2150.9C1362.7 2148.3 1369.6 2143.9 1375.3 2139.1C1381.0 2134.3 1386.3 2127.8 1390.9 2122.2C1395.5 2116.6 1402.7 2105.7 1402.7 2105.7C1402.7 2105.7 1396.4 2103.6 1394.8 2100.0C1393.2 2096.4 1393.7 2089.2 1393.0 2084.4C1392.3 2079.6 1393.0 2075.1 1390.9 2071.3C1388.8 2067.5 1380.5 2061.7 1380.5 2061.7Z" fill="#b0967e" stroke="#222" stroke-width="1.35"/>
<path d="M1280.0 2058.3C1280.0 2058.3 1267.7 2055.4 1260.5 2053.6C1253.3 2051.8 1245.3 2047.7 1237.0 2047.3C1228.7 2046.9 1216.6 2049.9 1210.9 2051.0C1205.2 2052.1 1203.1 2053.6 1203.1 2053.6C1203.1 2053.6 1200.3 2046.7 1197.9 2044.4C1195.5 2042.1 1191.5 2037.2 1188.7 2040.0C1185.9 2042.8 1182.6 2054.0 1180.9 2060.9C1179.2 2067.8 1178.1 2074.8 1178.3 2081.7C1178.5 2088.6 1182.2 2102.6 1182.2 2102.6C1182.2 2102.6 1200.9 2099.8 1210.9 2100.0C1220.9 2100.2 1242.2 2103.9 1242.2 2103.9C1242.2 2103.9 1255.9 2100.1 1263.1 2098.7C1270.3 2097.3 1285.3 2095.3 1285.3 2095.3C1285.3 2095.3 1284.3 2082.7 1283.4 2076.5C1282.5 2070.3 1280.0 2058.3 1280.0 2058.3Z" fill="#b0967e" stroke="#222" stroke-width="1.35"/>
<path d="M1285.3 2096.1C1285.3 2096.1 1269.8 2098.1 1263.1 2099.5C1256.3 2100.9 1244.8 2104.4 1244.8 2104.4C1244.8 2104.4 1242.3 2119.4 1242.7 2126.1C1243.1 2132.8 1245.7 2138.4 1246.9 2144.4C1248.1 2150.4 1250.0 2161.8 1250.0 2161.8C1250.0 2161.8 1256.9 2162.9 1263.1 2163.1C1269.3 2163.3 1287.1 2163.1 1287.1 2163.1C1287.1 2163.1 1286.0 2147.4 1285.3 2139.1C1284.5 2130.8 1282.7 2118.2 1282.6 2113.0C1282.5 2107.8 1284.0 2110.6 1284.5 2107.8C1285.0 2105.0 1285.3 2096.1 1285.3 2096.1Z" fill="#b0967e" stroke="#222" stroke-width="1.35"/>
<path d="M1242.2 2104.4C1242.2 2104.4 1220.9 2100.7 1210.9 2100.5C1200.9 2100.3 1182.2 2103.1 1182.2 2103.1C1182.2 2103.1 1180.4 2126.2 1180.4 2133.9C1180.4 2141.7 1182.2 2144.4 1182.2 2149.6C1182.2 2154.8 1180.6 2165.2 1180.6 2165.2C1180.6 2165.2 1199.3 2165.2 1210.9 2164.7C1222.5 2164.2 1250.0 2162.4 1250.0 2162.4C1250.0 2162.4 1248.1 2150.5 1246.9 2144.4C1245.7 2138.3 1243.5 2132.8 1242.7 2126.1C1241.9 2119.4 1242.2 2104.4 1242.2 2104.4Z" fill="#66c87f" stroke="#222" stroke-width="1.35"/>
<path d="M1290.5 2100.0C1290.5 2100.0 1285.8 2106.2 1284.5 2108.4C1283.2 2110.6 1282.5 2107.9 1282.6 2113.0C1282.7 2118.1 1284.5 2130.8 1285.3 2139.1C1286.0 2147.4 1287.1 2163.1 1287.1 2163.1C1287.1 2163.1 1291.0 2163.7 1293.1 2165.2C1295.2 2166.7 1299.6 2172.3 1299.6 2172.3C1299.6 2172.3 1308.8 2170.2 1315.3 2168.4C1321.8 2166.7 1338.7 2161.8 1338.7 2161.8C1338.7 2161.8 1341.3 2155.3 1341.3 2155.3C1341.3 2155.3 1327.0 2141.4 1320.5 2134.4C1314.0 2127.4 1307.2 2119.3 1302.2 2113.6C1297.2 2107.9 1290.5 2100.0 1290.5 2100.0Z" fill="#b0967e" stroke="#222" stroke-width="1.35"/>
<path d="M1432.7 2113.0C1430.7 2103.9 1425.2 2100.4 1422.2 2097.4C1419.2 2094.4 1414.4 2094.8 1414.4 2094.8C1414.4 2094.8 1405.2 2103.0 1401.3 2107.8C1397.4 2112.6 1395.2 2118.1 1390.9 2123.5C1386.6 2128.9 1375.3 2140.4 1375.3 2140.4C1375.3 2140.4 1383.3 2153.7 1385.7 2160.0C1388.1 2166.3 1388.7 2175.2 1389.6 2178.3C1390.5 2181.4 1388.1 2174.7 1390.9 2178.7C1393.7 2182.7 1403.1 2193.9 1406.6 2202.2C1410.1 2210.5 1410.8 2219.6 1411.8 2228.3C1412.8 2237.0 1412.5 2248.2 1412.3 2254.3C1412.1 2260.4 1409.7 2260.9 1410.5 2264.8C1411.3 2268.7 1417.0 2277.8 1417.0 2277.8C1417.0 2277.8 1428.1 2276.1 1432.7 2275.2C1437.3 2274.3 1444.4 2272.6 1444.4 2272.6C1444.4 2272.6 1447.4 2263.9 1447.0 2259.6C1446.6 2255.2 1443.5 2253.9 1441.8 2246.5C1440.1 2239.1 1438.1 2226.9 1436.6 2215.2C1435.1 2203.5 1433.1 2186.6 1432.7 2176.1C1432.3 2165.6 1434.0 2162.7 1434.0 2152.2C1434.0 2141.7 1434.7 2122.1 1432.7 2113.0Z" fill="#66c87f" stroke="#222" stroke-width="1.35"/>
<path d="M1375.3 2141.0C1375.3 2141.0 1362.7 2148.9 1357.0 2151.4C1351.3 2153.9 1341.3 2155.8 1341.3 2155.8C1341.3 2155.8 1341.6 2159.3 1341.9 2165.2C1342.2 2171.1 1343.1 2186.9 1343.4 2191.3C1343.8 2195.7 1342.8 2190.3 1344.0 2191.7C1345.2 2193.1 1350.5 2199.6 1350.5 2199.6C1350.5 2199.6 1355.0 2218.3 1357.0 2228.3C1359.0 2238.3 1360.5 2250.9 1362.2 2259.6C1363.9 2268.3 1366.3 2274.3 1367.4 2280.4C1368.5 2286.5 1367.6 2291.8 1368.7 2296.1C1369.8 2300.4 1374.0 2306.0 1374.0 2306.0C1374.0 2306.0 1384.0 2305.1 1388.3 2303.9C1392.6 2302.7 1400.0 2298.7 1400.0 2298.7C1400.0 2298.7 1396.3 2287.8 1394.8 2280.4C1393.3 2273.0 1392.2 2267.3 1390.9 2254.3C1389.6 2241.3 1387.7 2215.2 1387.0 2202.2C1386.3 2189.2 1387.1 2182.7 1387.0 2176.1C1386.9 2169.5 1388.2 2168.4 1386.2 2162.6C1384.2 2156.8 1375.3 2141.0 1375.3 2141.0Z" fill="#ffffff" stroke="#222" stroke-width="1.35"/>
<path d="M1338.7 2161.8C1338.7 2161.8 1321.8 2166.6 1315.3 2168.4C1308.8 2170.2 1299.6 2172.8 1299.6 2172.8C1299.6 2172.8 1299.9 2191.2 1300.1 2191.3C1300.3 2191.4 1300.6 2169.5 1300.9 2173.5C1301.2 2177.5 1302.2 2215.2 1302.2 2215.2C1302.2 2215.2 1307.6 2230.4 1310.0 2241.3C1312.4 2252.2 1315.1 2270.4 1316.6 2280.4C1318.1 2290.4 1319.0 2295.2 1319.2 2301.3C1319.4 2307.4 1317.9 2313.3 1317.9 2317.0C1317.9 2320.7 1319.2 2323.5 1319.2 2323.5C1319.2 2323.5 1328.3 2324.4 1333.5 2324.3C1338.7 2324.2 1350.5 2322.7 1350.5 2322.7C1350.5 2322.7 1353.1 2318.7 1353.1 2314.3C1353.1 2309.9 1351.8 2303.9 1350.5 2296.1C1349.2 2288.3 1346.6 2278.7 1345.3 2267.4C1344.0 2256.1 1343.5 2242.7 1342.7 2228.3C1342.0 2214.0 1341.0 2191.0 1340.8 2181.3C1340.6 2171.7 1341.6 2173.7 1341.3 2170.4C1341.0 2167.2 1338.7 2161.8 1338.7 2161.8Z" fill="#ffffff" stroke="#222" stroke-width="1.35"/>
<path d="M1287.1 2163.7C1287.1 2163.7 1267.6 2163.8 1263.1 2163.7C1258.6 2163.6 1260.0 2163.1 1260.0 2163.1C1260.0 2163.1 1262.3 2177.0 1262.6 2183.5C1262.9 2190.0 1263.2 2194.7 1261.8 2202.2C1260.4 2209.7 1254.0 2228.3 1254.0 2228.3C1254.0 2228.3 1254.6 2245.6 1255.3 2254.3C1256.0 2263.0 1258.1 2271.7 1257.9 2280.4C1257.7 2289.1 1255.3 2299.5 1254.0 2306.5C1252.7 2313.5 1249.8 2316.5 1250.0 2322.2C1250.2 2327.8 1255.3 2340.4 1255.3 2340.4C1255.3 2340.4 1268.9 2342.8 1276.1 2342.5C1283.3 2342.2 1298.3 2338.3 1298.3 2338.3C1298.3 2338.3 1300.9 2332.7 1300.9 2327.4C1300.9 2322.1 1299.6 2314.3 1298.3 2306.5C1297.0 2298.7 1293.8 2291.3 1293.1 2280.4C1292.4 2269.5 1293.2 2252.2 1294.4 2241.3C1295.6 2230.4 1300.1 2215.2 1300.1 2215.2C1300.1 2215.2 1299.7 2180.6 1299.6 2173.5C1299.5 2166.4 1299.6 2172.8 1299.6 2172.8C1299.6 2172.8 1295.2 2167.2 1293.1 2165.7C1291.0 2164.2 1287.1 2163.7 1287.1 2163.7Z" fill="#ffffff" stroke="#222" stroke-width="1.35"/>
<path d="M1259.4 2163.1C1259.4 2163.1 1258.1 2162.3 1250.0 2162.6C1241.9 2162.9 1222.5 2164.5 1210.9 2165.0C1199.3 2165.5 1180.6 2165.7 1180.6 2165.7C1180.6 2165.7 1179.7 2177.4 1179.3 2183.5C1178.9 2189.6 1178.2 2192.6 1178.3 2202.2C1178.3 2211.8 1180.0 2228.3 1179.6 2241.3C1179.2 2254.3 1177.7 2270.4 1175.7 2280.4C1173.8 2290.4 1169.9 2295.7 1167.9 2301.3C1166.0 2307.0 1164.0 2310.0 1164.0 2314.3C1164.0 2318.7 1167.2 2323.8 1167.9 2327.4C1168.6 2331.0 1167.9 2335.7 1167.9 2335.7C1167.9 2335.7 1187.2 2338.4 1197.9 2339.1C1208.6 2339.8 1231.8 2339.9 1231.8 2339.9C1231.8 2339.9 1234.2 2327.3 1234.4 2319.6C1234.6 2311.9 1232.2 2302.2 1233.1 2293.5C1234.0 2284.8 1237.2 2276.1 1239.6 2267.4C1242.0 2258.7 1245.0 2247.8 1247.4 2241.3C1249.8 2234.8 1254.0 2228.3 1254.0 2228.3C1254.0 2228.3 1259.7 2208.7 1261.0 2202.2C1262.3 2195.7 1261.5 2192.2 1261.8 2189.1C1262.1 2186.0 1263.0 2187.8 1262.6 2183.5C1262.2 2179.2 1259.4 2163.1 1259.4 2163.1Z" fill="#66c87f" stroke="#222" stroke-width="1.35"/>
<path d="M1444.4 2275.2C1444.4 2275.2 1444.6 2285.7 1445.7 2290.9C1446.8 2296.1 1449.5 2302.2 1450.9 2306.5C1452.3 2310.8 1454.0 2314.6 1454.0 2317.0C1454.0 2319.4 1450.9 2320.9 1450.9 2320.9C1450.9 2320.9 1436.2 2323.3 1432.7 2322.7C1429.2 2322.0 1430.0 2317.0 1430.0 2317.0C1430.0 2317.0 1429.1 2307.4 1427.4 2301.3C1425.7 2295.2 1421.3 2284.2 1419.6 2280.4C1417.9 2276.6 1417.0 2278.3 1417.0 2278.3C1417.0 2278.3 1428.1 2276.2 1432.7 2275.7C1437.3 2275.2 1444.4 2275.2 1444.4 2275.2Z" fill="#ffffff" stroke="#222" stroke-width="1.35"/>
<path d="M1452.2 2323.5C1452.2 2323.5 1452.9 2329.3 1453.5 2332.6C1454.1 2335.8 1455.6 2343.0 1455.6 2343.0C1455.6 2343.0 1437.9 2345.1 1437.9 2345.1C1437.9 2345.1 1437.2 2336.1 1436.6 2332.6C1435.9 2329.1 1434.0 2324.3 1434.0 2324.3C1434.0 2324.3 1452.2 2323.5 1452.2 2323.5Z" fill="#ffffff" stroke="#222" stroke-width="1.35"/>
<path d="M1455.6 2344.9C1455.6 2344.9 1452.5 2354.2 1452.2 2358.7C1451.9 2363.2 1454.2 2368.0 1453.5 2371.7C1452.8 2375.4 1449.8 2380.5 1448.3 2380.9C1446.8 2381.3 1445.3 2377.6 1444.4 2374.3C1443.5 2371.0 1444.3 2366.0 1443.1 2361.3C1441.9 2356.6 1437.1 2346.2 1437.1 2346.2C1437.1 2346.2 1455.6 2344.9 1455.6 2344.9Z" fill="#ffffff" stroke="#222" stroke-width="1.35"/>
<path d="M1400.0 2300.8C1400.0 2300.8 1403.5 2311.7 1404.0 2317.0C1404.5 2322.3 1402.3 2328.3 1402.7 2332.6C1403.1 2336.9 1405.7 2339.7 1406.6 2343.0C1407.5 2346.3 1407.9 2352.2 1407.9 2352.2C1407.9 2352.2 1387.0 2357.9 1387.0 2357.9C1387.0 2357.9 1386.8 2348.1 1385.7 2343.0C1384.6 2337.9 1382.2 2332.2 1380.5 2327.4C1378.8 2322.6 1376.3 2317.7 1375.3 2314.3C1374.3 2310.9 1374.7 2307.0 1374.7 2307.0C1374.7 2307.0 1384.1 2306.0 1388.3 2305.0C1392.5 2304.0 1400.0 2300.8 1400.0 2300.8Z" fill="#ffffff" stroke="#222" stroke-width="1.35"/>
<path d="M1409.2 2353.5C1409.2 2353.5 1410.7 2366.3 1411.8 2371.7C1412.9 2377.1 1415.7 2386.1 1415.7 2386.1C1415.7 2386.1 1394.8 2389.2 1394.8 2389.2C1394.8 2389.2 1394.7 2384.6 1393.5 2379.6C1392.3 2374.6 1387.8 2359.2 1387.8 2359.2C1387.8 2359.2 1409.2 2353.5 1409.2 2353.5Z" fill="#ffffff" stroke="#222" stroke-width="1.35"/>
<path d="M1417.0 2387.9C1417.0 2387.9 1414.2 2397.9 1414.4 2403.0C1414.6 2408.1 1419.0 2414.1 1418.3 2418.7C1417.6 2423.3 1413.1 2430.2 1410.5 2430.4C1407.9 2430.6 1403.8 2423.7 1402.7 2420.0C1401.6 2416.3 1405.5 2413.2 1404.0 2408.3C1402.5 2403.4 1394.0 2390.5 1394.0 2390.5C1394.0 2390.5 1417.0 2387.9 1417.0 2387.9Z" fill="#ffffff" stroke="#222" stroke-width="1.35"/>
<path d="M1350.5 2324.8C1350.5 2324.8 1354.0 2332.2 1354.4 2337.8C1354.8 2343.5 1352.2 2350.9 1353.1 2358.7C1354.0 2366.5 1357.9 2378.3 1359.6 2384.8C1361.3 2391.3 1363.5 2397.8 1363.5 2397.8C1363.5 2397.8 1336.1 2401.7 1336.1 2401.7C1336.1 2401.7 1336.1 2389.8 1334.8 2384.8C1333.5 2379.8 1330.2 2377.8 1328.3 2371.7C1326.3 2365.6 1324.8 2354.8 1323.1 2348.3C1321.4 2341.8 1318.7 2336.5 1317.9 2332.6C1317.1 2328.7 1318.4 2324.8 1318.4 2324.8C1318.4 2324.8 1328.2 2325.6 1333.5 2325.6C1338.8 2325.6 1350.5 2324.8 1350.5 2324.8Z" fill="#ffffff" stroke="#222" stroke-width="1.35"/>
<path d="M1363.5 2399.7C1363.5 2399.7 1359.4 2406.4 1359.6 2410.9C1359.8 2415.4 1363.5 2422.2 1364.8 2426.5C1366.1 2430.8 1367.4 2437.0 1367.4 2437.0C1367.4 2437.0 1344.0 2440.9 1344.0 2440.9C1344.0 2440.9 1343.8 2431.5 1342.7 2426.5C1341.6 2421.5 1338.5 2414.8 1337.4 2410.9C1336.3 2407.0 1336.1 2403.0 1336.1 2403.0C1336.1 2403.0 1363.5 2399.7 1363.5 2399.7Z" fill="#ffffff" stroke="#222" stroke-width="1.35"/>
<path d="M1367.4 2438.8C1367.4 2438.8 1364.6 2449.4 1364.8 2455.2C1365.0 2461.0 1369.1 2468.7 1368.7 2473.5C1368.3 2478.3 1364.6 2483.7 1362.2 2483.9C1359.8 2484.1 1355.7 2478.3 1354.4 2474.8C1353.1 2471.3 1356.1 2468.4 1354.4 2463.0C1352.7 2457.6 1344.0 2442.2 1344.0 2442.2C1344.0 2442.2 1367.4 2438.8 1367.4 2438.8Z" fill="#ffffff" stroke="#222" stroke-width="1.35"/>
<path d="M1298.3 2340.4C1298.3 2340.4 1302.2 2349.6 1302.2 2356.1C1302.2 2362.6 1298.5 2372.2 1298.3 2379.6C1298.1 2387.0 1300.0 2393.4 1300.9 2400.4C1301.8 2407.4 1303.5 2421.3 1303.5 2421.3C1303.5 2421.3 1273.5 2426.5 1273.5 2426.5C1273.5 2426.5 1272.2 2412.6 1270.9 2405.7C1269.6 2398.8 1267.9 2392.6 1265.7 2384.8C1263.5 2377.0 1259.7 2365.8 1257.9 2358.7C1256.1 2351.6 1254.7 2342.3 1254.7 2342.3C1254.7 2342.3 1268.8 2344.1 1276.1 2343.8C1283.4 2343.5 1298.3 2340.4 1298.3 2340.4Z" fill="#ffffff" stroke="#222" stroke-width="1.35"/>
<path d="M1304.8 2422.6C1304.8 2422.6 1307.2 2431.1 1307.4 2437.0C1307.6 2442.9 1305.9 2451.9 1306.1 2457.8C1306.3 2463.7 1308.7 2472.2 1308.7 2472.2C1308.7 2472.2 1282.6 2473.0 1282.6 2473.0C1282.6 2473.0 1283.7 2463.8 1282.6 2457.8C1281.5 2451.8 1277.6 2442.0 1276.1 2437.0C1274.6 2432.0 1273.5 2427.8 1273.5 2427.8C1273.5 2427.8 1304.8 2422.6 1304.8 2422.6Z" fill="#ffffff" stroke="#222" stroke-width="1.35"/>
<path d="M1308.7 2474.0C1308.7 2474.0 1305.0 2481.8 1304.8 2486.5C1304.6 2491.2 1308.5 2498.1 1307.4 2502.2C1306.3 2506.3 1301.3 2511.1 1298.3 2511.3C1295.3 2511.5 1290.5 2507.6 1289.2 2503.5C1287.9 2499.4 1291.6 2491.4 1290.5 2486.5C1289.4 2481.6 1282.6 2474.0 1282.6 2474.0C1282.6 2474.0 1308.7 2474.0 1308.7 2474.0Z" fill="#ffffff" stroke="#222" stroke-width="1.35"/>
<path d="M1230.5 2341.7C1230.5 2341.7 1232.9 2351.1 1231.8 2356.1C1230.7 2361.1 1226.4 2364.8 1224.0 2371.7C1221.6 2378.6 1218.7 2387.7 1217.4 2397.8C1216.1 2407.9 1216.1 2432.5 1216.1 2432.5C1216.1 2432.5 1166.6 2430.4 1166.6 2430.4C1166.6 2430.4 1170.3 2407.6 1170.5 2397.8C1170.7 2388.0 1169.0 2379.1 1167.9 2371.7C1166.8 2364.3 1164.0 2359.2 1164.0 2353.5C1164.0 2347.8 1167.9 2337.3 1167.9 2337.3C1167.9 2337.3 1187.5 2339.7 1197.9 2340.4C1208.3 2341.1 1230.5 2341.7 1230.5 2341.7Z" fill="#ffffff" stroke="#222" stroke-width="1.35"/>
<path d="M1216.1 2434.4C1216.1 2434.4 1212.4 2446.1 1210.9 2452.6C1209.4 2459.1 1207.2 2468.1 1207.0 2473.5C1206.8 2478.9 1210.7 2481.3 1209.6 2485.2C1208.5 2489.1 1203.5 2494.2 1200.5 2497.0C1197.5 2499.8 1194.6 2502.6 1191.3 2501.7C1188.0 2500.8 1183.5 2495.1 1180.9 2491.7C1178.3 2488.3 1175.9 2484.3 1175.7 2481.3C1175.5 2478.3 1180.0 2478.3 1179.6 2473.5C1179.2 2468.7 1175.3 2458.7 1173.1 2452.6C1170.9 2446.5 1167.5 2440.5 1166.6 2437.0C1165.7 2433.5 1167.9 2431.7 1167.9 2431.7C1167.9 2431.7 1216.1 2434.4 1216.1 2434.4Z" fill="#ffffff" stroke="#222" stroke-width="1.35"/>
<path d="M1251.3 1901.7C1250.7 1904.3 1248.5 1910.9 1247.4 1917.4C1246.3 1923.9 1246.5 1934.0 1244.8 1940.9C1243.1 1947.9 1241.3 1954.3 1237.0 1959.1C1232.7 1963.9 1223.5 1966.5 1218.7 1969.6C1213.9 1972.6 1210.7 1973.5 1208.3 1977.4C1205.9 1981.3 1204.0 1987.8 1204.4 1993.0C1204.8 1998.2 1206.8 2003.9 1210.9 2008.7C1215.0 2013.5 1221.8 2018.7 1229.2 2021.7C1236.6 2024.8 1247.5 2025.5 1255.3 2027.0C1263.1 2028.5 1272.2 2029.2 1276.1 2030.9C1280.0 2032.6 1278.7 2035.0 1278.7 2037.4C1278.7 2039.8 1276.1 2041.7 1276.1 2045.2C1276.1 2048.7 1278.3 2056.1 1278.7 2058.3" fill="none" stroke="#222" stroke-width="1.5"/>
<path d="M1490.2 568.4C1495.2 567.9 1499.4 568.9 1503.6 570.1C1507.8 571.4 1512.2 572.9 1515.2 575.9C1518.2 578.9 1520.1 583.2 1521.9 588.4C1523.7 593.5 1525.1 600.4 1526.1 606.8C1527.1 613.2 1527.8 621.2 1527.8 626.8C1527.8 632.4 1526.1 640.2 1526.1 640.2C1526.1 640.2 1529.6 638.5 1531.1 638.5C1532.6 638.5 1534.5 638.8 1535.3 640.2C1536.1 641.6 1536.4 645.5 1536.1 646.9C1535.8 648.3 1533.6 648.5 1533.6 648.5C1533.6 648.5 1522.8 656.9 1518.6 665.2C1514.4 673.6 1511.9 686.1 1508.6 698.6C1505.3 711.1 1501.4 727.9 1498.6 740.4C1495.8 752.9 1493.3 762.7 1491.9 773.8C1490.5 784.9 1490.2 793.3 1490.2 807.2C1490.2 821.1 1491.4 840.9 1491.9 857.2C1492.5 873.5 1494.4 880.7 1493.5 905.0C1492.6 929.3 1489.2 970.7 1486.7 1003.0C1484.2 1035.3 1480.6 1076.1 1478.7 1098.9C1476.8 1121.7 1475.9 1123.8 1475.5 1140.0C1475.1 1156.2 1475.8 1179.7 1476.5 1196.0C1477.2 1212.3 1480.6 1227.7 1479.5 1238.0C1478.4 1248.3 1473.8 1252.2 1470.0 1258.0C1466.2 1263.8 1459.5 1265.0 1456.5 1272.5C1453.5 1280.0 1453.8 1290.2 1452.0 1303.0C1450.2 1315.8 1448.1 1333.7 1445.8 1349.0C1443.5 1364.3 1440.3 1379.7 1438.0 1395.0C1435.7 1410.3 1434.2 1425.8 1432.0 1441.0C1429.8 1456.2 1427.5 1469.9 1425.0 1486.0C1422.5 1502.1 1418.5 1523.4 1417.0 1537.4C1415.5 1551.4 1416.0 1559.2 1415.8 1570.0C1415.6 1580.8 1416.7 1589.0 1415.8 1602.0C1414.9 1615.0 1412.4 1631.7 1410.6 1648.0C1408.8 1664.3 1406.1 1686.2 1404.8 1700.0C1403.5 1713.8 1402.6 1717.8 1402.6 1730.6C1402.6 1743.3 1404.4 1766.8 1404.9 1776.5C1405.4 1786.2 1406.2 1783.7 1405.6 1788.8C1404.9 1793.9 1402.8 1798.8 1401.0 1807.0C1399.2 1815.2 1396.8 1829.3 1395.0 1837.8C1393.2 1846.2 1391.1 1847.5 1390.3 1857.7C1389.5 1867.9 1390.0 1882.7 1390.3 1899.0C1390.6 1915.3 1391.9 1955.7 1391.9 1955.7C1391.9 1955.7 1388.8 1957.8 1387.3 1957.0C1385.8 1956.2 1384.0 1955.6 1382.7 1951.0C1381.4 1946.4 1380.9 1937.0 1379.6 1929.6C1378.3 1922.2 1377.3 1913.8 1375.0 1906.7C1372.7 1899.6 1369.4 1892.9 1365.8 1886.8C1362.2 1880.7 1357.1 1874.1 1353.6 1870.0C1350.1 1865.9 1347.0 1864.9 1345.0 1862.3C1343.0 1859.7 1341.6 1857.1 1341.3 1854.6C1341.0 1852.0 1341.6 1849.3 1342.9 1847.0C1344.2 1844.7 1347.0 1844.9 1349.0 1840.8C1351.0 1836.7 1353.7 1830.7 1355.0 1822.5C1356.3 1814.3 1356.2 1801.6 1356.6 1791.9C1357.0 1782.2 1356.6 1771.2 1357.4 1764.3C1358.2 1757.4 1359.5 1757.0 1361.2 1750.5C1362.9 1744.0 1365.0 1744.3 1367.6 1725.0C1370.2 1705.7 1374.1 1660.6 1376.9 1634.8C1379.8 1609.0 1382.7 1591.6 1384.7 1570.0C1386.8 1548.4 1388.2 1525.0 1389.2 1505.0C1390.2 1485.0 1390.4 1463.2 1391.0 1450.0C1391.6 1436.8 1393.0 1425.6 1393.0 1425.6C1393.0 1425.6 1396.0 1418.0 1396.0 1418.0C1396.0 1418.0 1397.9 1391.1 1398.4 1379.6C1398.9 1368.1 1398.2 1360.5 1399.0 1349.0C1399.8 1337.5 1401.3 1324.7 1403.0 1310.7C1404.7 1296.7 1407.7 1278.8 1409.0 1264.8C1410.3 1250.8 1409.1 1243.1 1410.6 1226.5C1412.1 1209.9 1416.2 1186.3 1418.0 1165.0C1419.8 1143.7 1420.5 1120.6 1421.3 1098.9C1422.1 1077.2 1422.2 1051.0 1423.0 1035.0C1423.8 1019.0 1424.7 1018.9 1426.0 1003.0C1427.3 987.1 1428.8 963.3 1430.9 939.4C1433.1 915.5 1436.5 884.5 1438.9 859.7C1441.3 834.9 1443.5 807.6 1445.1 790.5C1446.7 773.4 1447.9 766.9 1448.5 757.1C1449.1 747.4 1449.3 740.4 1448.5 732.0C1447.7 723.6 1445.9 714.8 1443.4 707.0C1440.9 699.2 1437.0 692.5 1433.4 685.3C1429.8 678.1 1425.2 670.0 1421.7 663.6C1418.2 657.2 1414.7 651.9 1412.6 646.9C1410.5 641.9 1409.2 637.4 1409.2 633.5C1409.2 629.6 1410.8 626.4 1412.6 623.5C1414.4 620.6 1417.5 617.7 1420.1 616.0C1422.7 614.3 1428.4 613.5 1428.4 613.5C1428.4 613.5 1431.5 608.5 1433.4 605.1C1435.4 601.8 1436.5 597.0 1440.1 593.4C1443.7 589.8 1449.5 586.7 1455.1 583.4C1460.7 580.1 1467.7 575.9 1473.5 573.4C1479.3 570.9 1485.2 568.9 1490.2 568.4Z" fill="#7fb0e3" stroke="#111" stroke-width="2.0"/>
<path d="M1408.7 1897.5C1408.7 1897.5 1412.0 1909.5 1412.5 1914.3C1413.0 1919.1 1412.4 1923.5 1411.8 1926.6C1411.2 1929.7 1408.7 1932.7 1408.7 1932.7C1408.7 1932.7 1408.7 1897.5 1408.7 1897.5Z" fill="#7fb0e3" stroke="#111" stroke-width="1.6"/>
<path d="M1468.0 1193.6C1468.0 1193.6 1464.6 1220.8 1462.7 1234.0C1460.8 1247.2 1458.3 1261.0 1456.5 1272.5C1454.7 1284.0 1453.8 1290.2 1452.0 1303.0C1450.2 1315.8 1448.1 1333.7 1445.8 1349.0C1443.5 1364.3 1440.3 1379.7 1438.0 1395.0C1435.7 1410.3 1434.2 1425.8 1432.0 1441.0C1429.8 1456.2 1427.5 1469.9 1425.0 1486.0C1422.5 1502.1 1418.5 1523.4 1417.0 1537.4C1415.5 1551.4 1416.0 1559.2 1415.8 1570.0C1415.6 1580.8 1415.6 1591.2 1415.8 1602.0C1416.0 1612.8 1416.8 1622.8 1417.0 1634.8C1417.2 1646.8 1417.3 1659.6 1417.0 1673.8C1416.7 1688.0 1415.9 1706.3 1415.2 1720.0C1414.5 1733.7 1413.0 1756.0 1413.0 1756.0C1413.0 1756.0 1418.6 1731.5 1420.4 1720.0C1422.2 1708.5 1422.2 1697.8 1423.6 1686.8C1425.0 1675.8 1427.1 1664.8 1428.8 1654.0C1430.5 1643.2 1432.0 1632.6 1434.0 1621.8C1436.0 1611.0 1438.1 1599.8 1440.5 1589.0C1442.9 1578.2 1445.7 1568.8 1448.3 1557.0C1450.9 1545.2 1453.6 1531.0 1456.0 1518.0C1458.4 1505.0 1460.8 1492.0 1462.6 1479.0C1464.4 1466.0 1465.7 1448.9 1467.0 1440.0C1468.3 1431.1 1469.0 1435.7 1470.3 1425.6C1471.6 1415.5 1473.5 1394.9 1475.0 1379.6C1476.5 1364.3 1478.2 1346.5 1479.5 1333.7C1480.8 1320.9 1482.2 1313.2 1482.6 1303.0C1483.0 1292.8 1482.3 1282.7 1481.8 1272.5C1481.3 1262.3 1480.6 1251.3 1479.5 1241.9C1478.4 1232.5 1476.9 1224.0 1475.0 1216.0C1473.1 1208.0 1468.0 1193.6 1468.0 1193.6Z" fill="url(#gb)"/>
<path d="M1470.3 1241.9C1470.6 1249.6 1472.2 1272.5 1471.9 1287.8C1471.7 1303.1 1470.3 1315.8 1468.8 1333.7C1467.3 1351.6 1464.8 1377.0 1462.7 1394.9C1460.7 1412.8 1458.3 1426.7 1456.5 1440.9C1454.7 1455.1 1452.8 1473.6 1452.0 1480.1" fill="none" stroke="#9a1414" stroke-width="1" opacity="0.7"/>
<path d="M1461.1 1269.4C1461.2 1275.0 1462.4 1289.8 1461.9 1303.1C1461.4 1316.4 1459.8 1331.1 1458.1 1349.0C1456.4 1366.9 1454.0 1388.5 1452.0 1410.3C1450.0 1432.1 1446.8 1468.5 1445.8 1480.1" fill="none" stroke="#9a1414" stroke-width="1" opacity="0.7"/>
<path d="M1455.0 1316.9C1454.5 1324.8 1453.5 1346.2 1452.0 1364.3C1450.5 1382.4 1447.7 1406.3 1445.8 1425.6C1443.9 1444.9 1441.4 1471.0 1440.5 1480.1" fill="none" stroke="#9a1414" stroke-width="1" opacity="0.7"/>
<path d="M1450.9 1440.0C1449.6 1448.7 1446.1 1474.6 1443.1 1491.9C1440.1 1509.2 1435.7 1525.9 1432.7 1543.9C1429.7 1561.9 1426.2 1590.4 1424.9 1599.7" fill="none" stroke="#9a1414" stroke-width="1" opacity="0.7"/>
<path d="M1441.8 1440.0C1440.5 1448.7 1436.8 1475.7 1434.0 1491.9C1431.2 1508.1 1427.1 1524.8 1424.9 1537.4C1422.7 1550.0 1421.7 1562.3 1421.0 1567.3" fill="none" stroke="#9a1414" stroke-width="1" opacity="0.7"/>
<path d="M1414.1 1807.2C1414.1 1807.2 1414.4 1811.8 1413.3 1819.4C1412.2 1827.1 1409.0 1844.9 1407.2 1853.1C1405.4 1861.3 1403.6 1863.8 1402.6 1868.4C1401.6 1873.0 1401.1 1875.5 1401.0 1880.6C1400.9 1885.7 1401.3 1888.3 1401.8 1899.0C1402.3 1909.7 1403.2 1927.0 1404.1 1944.9C1405.0 1962.8 1406.7 1994.1 1407.2 2006.2C1407.8 2018.3 1406.9 2009.7 1407.4 2017.4C1407.9 2025.1 1409.4 2039.1 1410.0 2052.2C1410.6 2065.2 1409.7 2086.9 1410.9 2095.7C1412.1 2104.5 1417.0 2105.2 1417.0 2105.2C1417.0 2105.2 1417.2 2104.5 1417.0 2095.7C1416.8 2086.9 1416.8 2068.1 1416.1 2052.2C1415.4 2036.2 1413.1 2007.7 1412.6 2000.0C1412.1 1992.3 1413.6 2012.8 1413.3 2006.2C1413.0 1999.6 1411.6 1975.6 1411.0 1960.3C1410.4 1945.0 1409.6 1929.6 1409.5 1914.3C1409.4 1899.0 1409.7 1881.2 1410.2 1868.4C1410.7 1855.7 1411.8 1848.0 1412.5 1837.8C1413.2 1827.6 1414.1 1807.2 1414.1 1807.2Z" fill="#c3caea" stroke="#555" stroke-width="0.8"/>
<path d="M1526.9 642.7C1526.9 642.7 1531.4 642.0 1533.6 648.5C1535.8 655.0 1537.5 670.8 1540.3 681.9C1543.1 693.0 1546.4 702.8 1550.3 715.3C1554.2 727.8 1559.5 743.2 1563.7 757.1C1567.9 771.0 1572.1 784.9 1575.4 798.8C1578.7 812.7 1581.5 828.1 1583.7 840.6C1585.9 853.1 1587.5 864.0 1588.7 873.9C1590.0 883.8 1590.7 891.7 1591.2 900.0C1591.8 908.3 1592.2 909.0 1592.0 923.5C1591.8 938.0 1591.9 966.0 1590.3 987.3C1588.7 1008.5 1585.9 1029.8 1582.4 1051.0C1579.0 1072.2 1573.8 1096.2 1569.6 1114.8C1565.3 1133.4 1560.4 1147.9 1556.9 1162.7C1553.4 1177.5 1552.4 1189.1 1548.4 1203.6C1544.4 1218.1 1537.3 1236.0 1533.0 1249.5C1528.7 1263.0 1525.2 1273.2 1522.4 1284.7C1519.6 1296.2 1518.4 1307.7 1516.3 1318.4C1514.2 1329.1 1512.5 1336.2 1510.0 1349.0C1507.5 1361.8 1503.8 1382.2 1501.0 1395.0C1498.2 1407.8 1496.0 1411.6 1493.3 1425.6C1490.6 1439.6 1487.7 1461.4 1484.7 1479.0C1481.8 1496.6 1478.8 1513.7 1475.6 1531.0C1472.3 1548.3 1468.9 1565.6 1465.2 1582.9C1461.5 1600.2 1457.2 1619.7 1453.5 1634.8C1449.8 1649.9 1446.0 1662.9 1443.0 1673.8C1440.0 1684.7 1437.7 1690.5 1435.5 1700.0C1433.3 1709.5 1431.9 1720.4 1430.0 1730.6C1428.1 1740.8 1426.0 1750.8 1424.0 1761.0C1422.0 1771.2 1419.7 1782.2 1417.9 1791.9C1416.1 1801.6 1415.1 1809.2 1413.3 1819.4C1411.5 1829.6 1409.0 1844.8 1407.2 1853.0C1405.4 1861.2 1403.6 1863.8 1402.6 1868.4C1401.6 1873.0 1401.1 1875.5 1401.0 1880.6C1400.9 1885.7 1401.3 1888.3 1401.8 1899.0C1402.3 1909.7 1403.2 1928.2 1404.0 1945.0C1404.8 1961.8 1405.9 1982.1 1406.5 2000.0C1407.1 2017.9 1407.5 2039.7 1407.4 2052.2C1407.3 2064.7 1407.0 2067.9 1405.7 2074.8C1404.4 2081.8 1402.6 2087.8 1399.6 2093.9C1396.5 2100.0 1393.8 2105.5 1387.4 2111.3C1381.0 2117.1 1371.5 2123.2 1361.3 2128.7C1351.1 2134.2 1338.1 2139.7 1326.5 2144.3C1314.9 2148.9 1303.3 2153.0 1291.7 2156.5C1280.1 2160.0 1267.1 2162.4 1257.0 2165.2C1246.9 2167.9 1238.2 2171.0 1230.9 2173.0C1223.7 2175.0 1213.5 2177.4 1213.5 2177.4C1213.5 2177.4 1201.4 2173.8 1197.8 2172.2C1194.2 2170.6 1191.7 2167.8 1191.7 2167.8C1191.7 2167.8 1199.7 2162.6 1204.8 2160.9C1209.9 2159.2 1215.0 2158.7 1222.2 2157.4C1229.5 2156.1 1238.2 2155.2 1248.3 2153.0C1258.4 2150.8 1271.4 2147.5 1283.0 2144.3C1294.6 2141.1 1307.6 2137.4 1317.8 2133.9C1328.0 2130.4 1335.2 2127.8 1343.9 2123.5C1352.6 2119.2 1363.0 2113.3 1370.0 2107.8C1377.0 2102.3 1381.9 2096.2 1385.7 2090.4C1389.5 2084.6 1391.2 2079.4 1392.6 2073.0C1394.0 2066.6 1394.1 2064.4 1394.3 2052.2C1394.5 2040.0 1393.9 2015.4 1393.5 2000.0C1393.1 1984.6 1392.4 1976.8 1391.9 1960.0C1391.4 1943.2 1390.9 1916.0 1390.6 1899.0C1390.3 1882.0 1389.6 1867.9 1390.3 1857.7C1391.0 1847.5 1393.2 1846.2 1395.0 1837.8C1396.8 1829.3 1399.0 1816.2 1401.0 1807.0C1403.0 1797.8 1405.0 1790.4 1407.0 1782.7C1409.0 1775.0 1411.0 1769.7 1413.3 1761.0C1415.6 1752.3 1418.8 1740.8 1421.0 1730.6C1423.2 1720.4 1423.5 1716.0 1426.3 1700.0C1429.1 1684.0 1433.8 1656.5 1437.9 1634.8C1442.0 1613.1 1447.9 1588.8 1450.9 1570.0C1453.9 1551.2 1454.0 1537.0 1456.0 1522.0C1458.0 1507.0 1460.6 1496.1 1462.7 1480.0C1464.8 1463.9 1467.0 1439.8 1468.8 1425.6C1470.6 1411.4 1471.9 1407.8 1473.4 1395.0C1474.9 1382.2 1476.7 1361.8 1478.0 1349.0C1479.3 1336.2 1480.2 1328.6 1481.0 1318.4C1481.8 1308.2 1482.7 1300.5 1482.6 1287.8C1482.5 1275.0 1481.3 1257.2 1480.3 1241.9C1479.3 1226.6 1477.3 1213.0 1476.5 1196.0C1475.7 1179.0 1475.1 1156.2 1475.5 1140.0C1475.9 1123.8 1476.8 1121.7 1478.7 1098.9C1480.6 1076.1 1484.2 1035.3 1486.7 1003.0C1489.2 970.7 1492.6 929.3 1493.5 905.0C1494.4 880.7 1492.5 873.5 1491.9 857.2C1491.4 840.9 1490.2 821.1 1490.2 807.2C1490.2 793.3 1490.5 784.9 1491.9 773.8C1493.3 762.7 1495.8 752.9 1498.6 740.4C1501.4 727.9 1505.3 711.1 1508.6 698.6C1511.9 686.1 1515.5 674.5 1518.6 665.2C1521.6 655.9 1526.9 642.7 1526.9 642.7Z" fill="url(#gl)" stroke="#111" stroke-width="1.8"/>
<path d="M1496.3 816.0C1496.6 822.7 1497.5 842.7 1498.1 856.0C1498.7 869.3 1499.8 882.7 1499.9 896.0C1500.0 909.3 1499.2 922.7 1498.6 936.0C1498.0 949.3 1497.1 962.7 1496.3 976.0C1495.5 989.3 1494.6 1002.7 1493.6 1016.0C1492.6 1029.3 1491.5 1042.7 1490.4 1056.0C1489.3 1069.3 1488.1 1082.7 1487.0 1096.0C1485.9 1109.3 1484.2 1122.7 1483.6 1136.0C1483.0 1149.3 1483.3 1169.3 1483.2 1176.0" fill="none" stroke="#7c1010" stroke-width="1.25" opacity="0.85"/>
<path d="M1513.0 752.0C1512.8 758.7 1511.7 778.7 1511.9 792.0C1512.1 805.3 1513.3 818.7 1514.1 832.0C1514.9 845.3 1516.1 858.7 1516.9 872.0C1517.7 885.3 1518.7 898.7 1518.7 912.0C1518.7 925.3 1517.6 938.7 1517.0 952.0C1516.4 965.3 1515.9 978.7 1515.1 992.0C1514.2 1005.3 1513.1 1018.7 1511.9 1032.0C1510.7 1045.3 1509.4 1058.7 1508.1 1072.0C1506.8 1085.3 1505.3 1098.7 1504.0 1112.0C1502.7 1125.3 1501.0 1138.7 1500.0 1152.0C1499.0 1165.3 1498.5 1178.7 1498.0 1192.0C1497.5 1205.3 1496.9 1225.3 1496.7 1232.0" fill="none" stroke="#7c1010" stroke-width="1.25" opacity="0.85"/>
<path d="M1522.7 699.0C1522.5 705.7 1521.8 725.7 1521.6 739.0C1521.4 752.3 1521.2 765.7 1521.7 779.0C1522.2 792.3 1523.6 805.7 1524.7 819.0C1525.8 832.3 1527.0 845.7 1528.2 859.0C1529.4 872.3 1531.2 885.7 1531.7 899.0C1532.2 912.3 1531.7 925.7 1531.5 939.0C1531.3 952.3 1530.9 965.7 1530.3 979.0C1529.7 992.3 1528.7 1005.7 1527.7 1019.0C1526.7 1032.3 1525.6 1045.7 1524.3 1059.0C1523.0 1072.3 1521.4 1085.7 1519.8 1099.0C1518.2 1112.3 1516.1 1125.7 1514.6 1139.0C1513.1 1152.3 1512.2 1165.7 1511.0 1179.0C1509.8 1192.3 1508.2 1212.3 1507.6 1219.0" fill="none" stroke="#7c1010" stroke-width="1.25" opacity="0.85"/>
<path d="M1527.3 668.0C1527.2 674.7 1526.5 694.7 1526.6 708.0C1526.7 721.3 1527.3 734.7 1528.0 748.0C1528.7 761.3 1529.5 774.7 1530.6 788.0C1531.7 801.3 1533.3 814.7 1534.7 828.0C1536.1 841.3 1537.5 854.7 1538.9 868.0C1540.3 881.3 1542.2 894.7 1542.9 908.0C1543.6 921.3 1543.1 934.7 1543.1 948.0C1543.1 961.3 1543.3 974.7 1542.9 988.0C1542.5 1001.3 1541.5 1014.7 1540.5 1028.0C1539.5 1041.3 1538.4 1054.7 1537.1 1068.0C1535.8 1081.3 1534.3 1094.7 1532.7 1108.0C1531.1 1121.3 1528.9 1134.7 1527.2 1148.0C1525.5 1161.3 1524.1 1174.7 1522.3 1188.0C1520.5 1201.3 1518.5 1214.7 1516.4 1228.0C1514.3 1241.3 1510.7 1261.3 1509.6 1268.0" fill="none" stroke="#7c1010" stroke-width="1.25" opacity="0.85"/>
<path d="M1537.7 724.0C1538.7 730.7 1541.7 750.7 1543.8 764.0C1545.9 777.3 1548.3 790.7 1550.3 804.0C1552.3 817.3 1554.3 830.7 1556.0 844.0C1557.7 857.3 1559.3 870.7 1560.2 884.0C1561.1 897.3 1561.6 910.7 1561.5 924.0C1561.4 937.3 1560.5 950.7 1559.8 964.0C1559.0 977.3 1558.2 990.7 1557.0 1004.0C1555.8 1017.3 1554.3 1030.7 1552.5 1044.0C1550.7 1057.3 1548.4 1070.7 1546.2 1084.0C1544.0 1097.3 1541.6 1110.7 1539.2 1124.0C1536.8 1137.3 1533.8 1150.7 1531.6 1164.0C1529.4 1177.3 1527.1 1197.3 1526.2 1204.0" fill="none" stroke="#7c1010" stroke-width="1.25" opacity="0.85"/>
<path d="M1561.4 789.0C1562.7 795.7 1566.7 815.7 1568.9 829.0C1571.1 842.3 1573.2 855.7 1574.7 869.0C1576.2 882.3 1577.3 895.7 1577.7 909.0C1578.1 922.3 1577.3 935.7 1576.9 949.0C1576.5 962.3 1576.3 975.7 1575.2 989.0C1574.1 1002.3 1572.1 1015.7 1570.3 1029.0C1568.5 1042.3 1566.5 1055.7 1564.2 1069.0C1561.9 1082.3 1559.4 1095.7 1556.6 1109.0C1553.8 1122.3 1548.9 1142.3 1547.4 1149.0" fill="none" stroke="#7c1010" stroke-width="1.25" opacity="0.85"/>
</g>
<rect x="205" y="256" width="1817" height="2" fill="#000"/>
<rect x="205" y="256" width="2" height="2278" fill="#000"/>
<text x="1125" y="142.5" font-size="86.6" text-anchor="middle" fill="#000">Peroneus Longus &amp; Brevis</text>
<text x="1125" y="220" font-size="65.5" text-anchor="middle" fill="#000">Lateral Low Leg</text>
<text transform="translate(143 2066.5) rotate(-90)" font-size="90" font-weight="bold"><tspan fill="#1c4a0c">Anatomy - </tspan><tspan fill="#00009a" dx="-4.5">Origin</tspan><tspan fill="#1c4a0c" dx="1.5"> / </tspan><tspan fill="#138013" dx="3">Insertion</tspan><tspan fill="#1c4a0c"> /</tspan><tspan fill="#8b5a3a">Trapped</tspan></text>
<rect x="112.5" y="1624.7" width="12.3" height="32.6" fill="#1c4a0c"/>
<g>
<clipPath id="lc"><circle cx="259.4" cy="310.5" r="41.8"/></clipPath>
<rect x="225" y="282.5" width="69" height="69" fill="#fdfd78"/>
<circle cx="259.4" cy="310.5" r="41.8" fill="#73a9dd"/>
<rect x="225" y="282.5" width="69" height="69" fill="#74c794" clip-path="url(#lc)"/>
<g fill="none" stroke="#9b9b9b" stroke-linecap="round"><ellipse cx="259.3" cy="287.2" rx="2.5" ry="3.3" fill="#9b9b9b" stroke="none"/><path d="M259.3 289 L259.3 295" stroke-width="3"/><path d="M255.8 294.2 L263.0 294.2 L265.4 297.4 L264.2 306.1 L262.5 314.2 L264.8 320.0 L259.3 322.6 L254.3 320.0 L256.4 314.2 L254.6 306.1 L253.2 297.4Z" fill="#9b9b9b" stroke="none"/><path d="M255.8 295.9 L228.0 284.0 M263.3 295.9 L291.2 284.6 M254.9 297.5 L226.2 295.7 M264.2 297.5 L292.3 295.7" stroke-width="2.1"/><path d="M256.4 319.1 L240.4 345.5 M262.5 319.1 L278.4 345.5 M257.8 320.0 L255.9 351.6 M261.0 320.0 L264.0 351.6" stroke-width="2.9"/></g>
<text x="259.4" y="314.2" font-size="10.3" text-anchor="middle" fill="#c8202a" textLength="68" lengthAdjust="spacingAndGlyphs">IntegrativeWorks.com</text>
</g>
<text x="340.5" y="307.6" font-size="40.5" fill="#7d2e2e">IntegrativeWorks.com</text>
<text x="410" y="343.8" font-size="23.2" fill="#111">© Integrative Works 2023</text>
<g fill="#952f3c" stroke="#952f3c" stroke-width="0.35" font-size="18.5">
<text x="1053" y="649" textLength="145" lengthAdjust="spacingAndGlyphs">(C) 2023 Integrative Works</text>
<text x="1067.5" y="670.5" textLength="115.5" lengthAdjust="spacingAndGlyphs">IntegrativeWorks.com</text>
</g>
</svg></body></html>
